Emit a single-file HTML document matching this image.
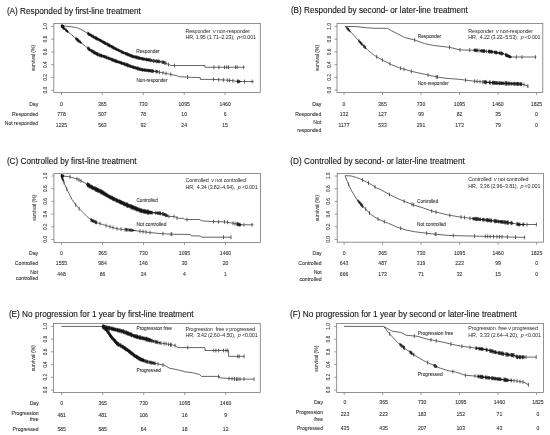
<!DOCTYPE html>
<html><head><meta charset="utf-8"><style>
html,body{margin:0;padding:0;background:#fff;width:550px;height:435px;overflow:hidden}
svg{display:block;filter:blur(0.38px)}
text{font-family:"Liberation Sans", sans-serif;stroke:#333;stroke-width:0.1px}
</style></head><body>
<svg width="550" height="435" viewBox="0 0 550 435">
<rect width="550" height="435" fill="#fff"/>
<rect x="53.8" y="23.5" width="206.5" height="69.0" fill="none" stroke="#777" stroke-width="0.8"/>
<text x="6.90" y="13.60" font-size="8.6" text-anchor="start" fill="#111" textLength="134" lengthAdjust="spacingAndGlyphs" style="stroke:#222;stroke-width:0.12px">(A) Responded by first-line treatment</text>
<line x1="51.20" y1="90.20" x2="53.80" y2="90.20" stroke="#777" stroke-width="0.7"/>
<text transform="translate(47.00,90.20) rotate(-90)" font-size="6.0" text-anchor="middle" fill="#444" textLength="6.6" lengthAdjust="spacingAndGlyphs">0.0</text>
<line x1="51.20" y1="77.44" x2="53.80" y2="77.44" stroke="#777" stroke-width="0.7"/>
<text transform="translate(47.00,77.44) rotate(-90)" font-size="6.0" text-anchor="middle" fill="#444" textLength="6.6" lengthAdjust="spacingAndGlyphs">0.2</text>
<line x1="51.20" y1="64.68" x2="53.80" y2="64.68" stroke="#777" stroke-width="0.7"/>
<text transform="translate(47.00,64.68) rotate(-90)" font-size="6.0" text-anchor="middle" fill="#444" textLength="6.6" lengthAdjust="spacingAndGlyphs">0.4</text>
<line x1="51.20" y1="51.92" x2="53.80" y2="51.92" stroke="#777" stroke-width="0.7"/>
<text transform="translate(47.00,51.92) rotate(-90)" font-size="6.0" text-anchor="middle" fill="#444" textLength="6.6" lengthAdjust="spacingAndGlyphs">0.6</text>
<line x1="51.20" y1="39.16" x2="53.80" y2="39.16" stroke="#777" stroke-width="0.7"/>
<text transform="translate(47.00,39.16) rotate(-90)" font-size="6.0" text-anchor="middle" fill="#444" textLength="6.6" lengthAdjust="spacingAndGlyphs">0.8</text>
<line x1="51.20" y1="26.40" x2="53.80" y2="26.40" stroke="#777" stroke-width="0.7"/>
<text transform="translate(47.00,26.40) rotate(-90)" font-size="6.0" text-anchor="middle" fill="#444" textLength="6.6" lengthAdjust="spacingAndGlyphs">1.0</text>
<text transform="translate(35.00,58.00) rotate(-90)" font-size="5.0" text-anchor="middle" fill="#444">survival (%)</text>
<line x1="61.50" y1="92.50" x2="61.50" y2="95.10" stroke="#777" stroke-width="0.7"/>
<line x1="102.40" y1="92.50" x2="102.40" y2="95.10" stroke="#777" stroke-width="0.7"/>
<line x1="143.30" y1="92.50" x2="143.30" y2="95.10" stroke="#777" stroke-width="0.7"/>
<line x1="184.20" y1="92.50" x2="184.20" y2="95.10" stroke="#777" stroke-width="0.7"/>
<line x1="225.10" y1="92.50" x2="225.10" y2="95.10" stroke="#777" stroke-width="0.7"/>
<text x="38.20" y="106.20" font-size="5.6" text-anchor="end" fill="#333" textLength="9.07" lengthAdjust="spacingAndGlyphs" >Day</text>
<text x="61.50" y="106.30" font-size="5.6" text-anchor="middle" fill="#333" textLength="2.84" lengthAdjust="spacingAndGlyphs" >0</text>
<text x="102.40" y="106.30" font-size="5.6" text-anchor="middle" fill="#333" textLength="8.51" lengthAdjust="spacingAndGlyphs" >365</text>
<text x="143.30" y="106.30" font-size="5.6" text-anchor="middle" fill="#333" textLength="8.51" lengthAdjust="spacingAndGlyphs" >730</text>
<text x="184.20" y="106.30" font-size="5.6" text-anchor="middle" fill="#333" textLength="11.34" lengthAdjust="spacingAndGlyphs" >1095</text>
<text x="225.10" y="106.30" font-size="5.6" text-anchor="middle" fill="#333" textLength="11.34" lengthAdjust="spacingAndGlyphs" >1460</text>
<text x="38.20" y="115.50" font-size="5.6" text-anchor="end" fill="#333" textLength="26.09" lengthAdjust="spacingAndGlyphs" >Responded</text>
<text x="61.50" y="115.50" font-size="5.6" text-anchor="middle" fill="#333" textLength="8.51" lengthAdjust="spacingAndGlyphs" >778</text>
<text x="102.40" y="115.50" font-size="5.6" text-anchor="middle" fill="#333" textLength="8.51" lengthAdjust="spacingAndGlyphs" >507</text>
<text x="143.30" y="115.50" font-size="5.6" text-anchor="middle" fill="#333" textLength="5.67" lengthAdjust="spacingAndGlyphs" >78</text>
<text x="184.20" y="115.50" font-size="5.6" text-anchor="middle" fill="#333" textLength="5.67" lengthAdjust="spacingAndGlyphs" >10</text>
<text x="225.10" y="115.50" font-size="5.6" text-anchor="middle" fill="#333" textLength="2.84" lengthAdjust="spacingAndGlyphs" >6</text>
<text x="38.20" y="125.00" font-size="5.6" text-anchor="end" fill="#333" textLength="33.45" lengthAdjust="spacingAndGlyphs" >Not responded</text>
<text x="61.50" y="126.60" font-size="5.6" text-anchor="middle" fill="#333" textLength="11.34" lengthAdjust="spacingAndGlyphs" >1225</text>
<text x="102.40" y="126.60" font-size="5.6" text-anchor="middle" fill="#333" textLength="8.51" lengthAdjust="spacingAndGlyphs" >563</text>
<text x="143.30" y="126.60" font-size="5.6" text-anchor="middle" fill="#333" textLength="5.67" lengthAdjust="spacingAndGlyphs" >92</text>
<text x="184.20" y="126.60" font-size="5.6" text-anchor="middle" fill="#333" textLength="5.67" lengthAdjust="spacingAndGlyphs" >24</text>
<text x="225.10" y="126.60" font-size="5.6" text-anchor="middle" fill="#333" textLength="5.67" lengthAdjust="spacingAndGlyphs" >15</text>
<path d="M61.70,26.10 L67.20,26.30 L71.80,26.80 L76.40,27.50 L81.00,29.40 L85.60,32.10 L90.20,34.90 L94.80,37.60 L99.40,39.90 L105.00,43.10 L114.20,48.10 L123.40,52.70 L132.60,56.40 L141.80,58.70 L150.00,60.10 L154.60,61.00 L159.20,61.50 L163.80,62.40 L168.40,64.40 L171.10,65.50 L205.00,65.50 L205.00,67.30 L244.50,67.20" fill="none" stroke="#4a4a4a" stroke-width="0.85" stroke-linejoin="round"/>
<path d="M61.70,26.10 L63.50,26.17" fill="none" stroke="#222" stroke-width="1.65" stroke-linejoin="round" stroke-linecap="round"/>
<path d="M61.70,24.50V27.70M62.45,24.37V27.89M63.20,24.91V27.40" stroke="#111" stroke-width="0.8" fill="none"/>
<path d="M88.00,33.56 L90.20,34.90 L94.80,37.60 L99.40,39.90 L105.00,43.10 L114.20,48.10 L123.40,52.70 L132.60,56.40 L141.80,58.70 L150.00,60.10" fill="none" stroke="#222" stroke-width="1.88" stroke-linejoin="round" stroke-linecap="round"/>
<path d="M88.00,31.75V35.37M88.75,32.12V35.92M89.50,33.06V35.89M90.25,33.56V36.30M91.32,33.72V37.39M92.07,34.46V37.53M93.21,34.69V38.65M93.96,35.74V38.48M95.08,35.91V39.57M95.83,36.09V40.14M96.58,36.63V40.35M97.33,37.15V40.59M98.65,38.01V41.04M99.40,38.39V41.41M100.15,38.83V41.83M100.90,39.09V42.43M101.65,39.63V42.74M102.92,39.92V43.91M103.67,40.92V43.76M104.42,40.98V44.56M105.17,41.34V45.05M105.92,42.04V45.16M107.22,42.30V46.31M107.97,43.07V46.36M108.72,43.19V47.05M109.47,43.71V47.35M110.22,44.37V47.50M111.51,45.01V48.26M112.26,45.10V48.99M113.01,45.77V49.14M113.76,45.99V49.73M114.51,46.62V49.89M115.54,47.36V50.18M116.29,47.33V50.96M117.04,48.10V50.95M118.31,48.46V51.85M119.06,49.16V51.90M119.81,49.53V52.29M121.16,49.82V53.33M121.91,50.15V53.76M122.66,50.86V53.80M123.41,51.19V54.21M124.16,51.65V54.36M125.47,52.02V55.04M126.22,52.12V55.54M126.97,52.12V56.15M127.72,52.68V56.19M128.47,53.07V56.41M129.59,53.57V56.81M130.34,53.54V57.44M131.66,54.10V57.94M132.41,54.61V58.04M133.16,54.80V58.28M133.91,55.08V58.38M134.66,55.53V58.30M135.79,55.19V59.21M136.54,55.75V59.03M137.29,55.65V59.49M138.14,56.00V59.57M138.89,56.19V59.75M139.64,56.49V59.83M140.39,56.98V59.72M141.14,57.03V60.05M142.29,56.87V60.69M143.04,57.00V60.82M144.01,57.67V60.49M144.76,57.84V60.57M145.99,57.88V60.95M146.74,57.64V61.45M147.49,58.19V61.15M148.43,58.11V61.55M149.18,58.49V61.43M149.93,58.55V61.63" stroke="#111" stroke-width="0.8" fill="none"/>
<path d="M150.00,60.10 L154.60,61.00 L159.20,61.50 L163.80,62.40 L165.00,62.92" fill="none" stroke="#222" stroke-width="0.88" stroke-linejoin="round" stroke-linecap="round"/>
<path d="M150.00,58.55V61.65M150.75,58.97V61.53M151.50,58.98V61.81M152.75,59.36V61.91M153.50,58.95V62.61M154.25,59.37V62.49M155.40,59.73V62.44M156.15,59.69V62.65M157.48,59.62V63.01M158.23,59.72V63.07M158.98,59.89V63.06M159.73,60.25V62.96M162.68,60.66V63.70M163.43,60.76V63.89M164.18,61.34V63.79M164.93,61.22V64.56" stroke="#111" stroke-width="0.8" fill="none"/>
<line x1="150.50" y1="58.30" x2="150.50" y2="62.10" stroke="#444" stroke-width="0.85"/>
<line x1="153.50" y1="58.88" x2="153.50" y2="62.68" stroke="#444" stroke-width="0.85"/>
<line x1="156.50" y1="59.31" x2="156.50" y2="63.11" stroke="#444" stroke-width="0.85"/>
<line x1="159.00" y1="59.58" x2="159.00" y2="63.38" stroke="#444" stroke-width="0.85"/>
<line x1="162.00" y1="60.15" x2="162.00" y2="63.95" stroke="#444" stroke-width="0.85"/>
<line x1="164.50" y1="60.80" x2="164.50" y2="64.60" stroke="#444" stroke-width="0.85"/>
<line x1="166.00" y1="61.46" x2="166.00" y2="65.26" stroke="#444" stroke-width="0.85"/>
<line x1="168.50" y1="62.54" x2="168.50" y2="66.34" stroke="#444" stroke-width="0.85"/>
<line x1="174.40" y1="63.60" x2="174.40" y2="67.40" stroke="#444" stroke-width="0.85"/>
<line x1="213.90" y1="65.38" x2="213.90" y2="69.18" stroke="#444" stroke-width="0.85"/>
<line x1="218.90" y1="65.36" x2="218.90" y2="69.16" stroke="#444" stroke-width="0.85"/>
<line x1="224.50" y1="65.35" x2="224.50" y2="69.15" stroke="#444" stroke-width="0.85"/>
<line x1="226.70" y1="65.35" x2="226.70" y2="69.15" stroke="#444" stroke-width="0.85"/>
<line x1="228.50" y1="65.34" x2="228.50" y2="69.14" stroke="#444" stroke-width="0.85"/>
<line x1="235.50" y1="65.32" x2="235.50" y2="69.12" stroke="#444" stroke-width="0.85"/>
<line x1="237.20" y1="65.32" x2="237.20" y2="69.12" stroke="#444" stroke-width="0.85"/>
<line x1="243.70" y1="65.30" x2="243.70" y2="69.10" stroke="#444" stroke-width="0.85"/>
<path d="M61.70,26.10 L62.60,27.00 L67.20,31.20 L71.80,34.90 L76.40,39.00 L81.00,42.70 L85.60,46.40 L90.20,50.00 L94.80,52.80 L99.40,55.10 L105.00,56.80 L114.20,60.50 L123.40,63.70 L132.60,67.00 L141.80,69.70 L150.00,70.70 L156.90,71.60 L163.80,73.00 L170.70,74.40 L176.70,75.70 L179.40,76.70 L191.40,77.30 L200.30,77.60 L200.30,79.40 L213.00,79.40 L225.00,80.00 L232.00,80.60 L238.00,81.50 L253.90,81.50" fill="none" stroke="#4a4a4a" stroke-width="0.85" stroke-linejoin="round"/>
<path d="M61.50,26.10 L61.70,26.10 L62.60,27.00 L65.00,29.19" fill="none" stroke="#222" stroke-width="1.80" stroke-linejoin="round" stroke-linecap="round"/>
<path d="M61.50,24.76V27.44M62.25,25.14V28.16M63.00,25.39V29.34M63.75,26.14V29.96" stroke="#111" stroke-width="0.8" fill="none"/>
<path d="M66.00,30.10 L67.20,31.20 L68.00,31.84" fill="none" stroke="#222" stroke-width="1.50" stroke-linejoin="round" stroke-linecap="round"/>
<path d="M66.00,28.36V31.85M66.75,29.48V32.10M67.50,30.23V32.65" stroke="#111" stroke-width="0.8" fill="none"/>
<path d="M76.00,38.64 L76.40,39.00 L81.00,42.70" fill="none" stroke="#222" stroke-width="1.65" stroke-linejoin="round" stroke-linecap="round"/>
<path d="M76.00,36.83V40.46M76.75,38.05V40.51M77.50,38.11V41.66M78.25,38.61V42.36M79.00,39.49V42.69M80.28,40.57V43.68" stroke="#111" stroke-width="0.8" fill="none"/>
<path d="M88.00,48.28 L90.20,50.00 L94.80,52.80 L99.40,55.10 L105.00,56.80 L114.20,60.50 L123.40,63.70 L132.60,67.00 L141.80,69.70 L150.00,70.70 L152.00,70.96" fill="none" stroke="#222" stroke-width="1.95" stroke-linejoin="round" stroke-linecap="round"/>
<path d="M88.00,46.48V50.08M88.75,46.84V50.89M89.50,47.64V51.27M90.82,48.77V51.98M91.57,49.08V52.58M92.32,49.66V52.92M93.07,49.74V53.76M93.93,50.27V54.27M94.68,50.76V54.69M95.43,51.32V54.91M96.49,51.77V55.52M97.24,52.03V56.01M97.99,52.34V56.45M99.28,53.30V56.78M100.03,53.20V57.38M100.78,53.96V57.08M101.53,53.84V57.66M102.28,54.52V57.43M103.59,54.78V57.96M104.34,54.97V58.23M105.09,55.08V58.59M106.11,55.64V58.85M106.86,55.54V59.55M108.19,56.59V59.58M108.94,56.60V60.17M109.69,57.21V60.16M110.44,57.56V60.41M111.72,57.52V61.48M112.47,58.17V61.44M113.22,58.27V61.94M114.26,58.73V62.31M115.01,58.98V62.58M115.76,58.98V63.11M116.51,59.65V62.96M117.26,59.96V63.17M118.17,60.40V63.35M118.92,60.71V63.57M119.67,60.79V64.01M120.52,61.22V64.18M121.27,60.94V64.98M122.02,61.79V64.65M122.77,61.91V65.05M123.83,62.14V65.57M124.58,62.25V66.00M125.86,62.54V66.62M126.61,63.18V66.51M127.36,63.04V67.20M128.11,63.35V67.42M129.08,64.12V67.36M129.83,64.46V67.55M130.58,64.65V67.90M131.33,65.13V67.96M132.64,65.39V68.64M133.39,65.56V68.91M134.14,65.77V69.13M134.89,66.23V69.12M135.64,66.27V69.52M136.72,66.66V69.76M137.47,66.60V70.26M138.22,66.56V70.74M139.42,67.42V70.58M140.17,67.44V71.00M140.92,67.83V71.06M141.81,68.24V71.16M142.56,67.87V71.72M143.31,68.42V71.35M144.33,68.33V71.68M145.08,68.48V71.71M145.83,68.56V71.82M147.10,68.77V71.92M147.85,68.97V71.91M148.60,68.70V72.36M149.50,69.22V72.05M150.25,69.16V72.30M151.00,69.38V72.28M151.88,69.53V72.36" stroke="#111" stroke-width="0.8" fill="none"/>
<path d="M152.00,70.96 L156.90,71.60 L158.00,71.82" fill="none" stroke="#222" stroke-width="0.88" stroke-linejoin="round" stroke-linecap="round"/>
<path d="M152.00,69.42V72.51M152.75,69.25V72.86M153.50,69.85V72.46M156.44,69.98V73.10M157.19,69.99V73.33" stroke="#111" stroke-width="0.8" fill="none"/>
<path d="M237.60,81.44 L238.00,81.50 L239.80,81.50" fill="none" stroke="#222" stroke-width="1.95" stroke-linejoin="round" stroke-linecap="round"/>
<path d="M237.60,79.46V83.42M238.35,79.88V83.12M239.10,80.03V82.97" stroke="#111" stroke-width="0.8" fill="none"/>
<line x1="152.00" y1="69.06" x2="152.00" y2="72.86" stroke="#444" stroke-width="0.85"/>
<line x1="156.00" y1="69.58" x2="156.00" y2="73.38" stroke="#444" stroke-width="0.85"/>
<line x1="159.50" y1="70.23" x2="159.50" y2="74.03" stroke="#444" stroke-width="0.85"/>
<line x1="163.00" y1="70.94" x2="163.00" y2="74.74" stroke="#444" stroke-width="0.85"/>
<line x1="166.00" y1="71.55" x2="166.00" y2="75.35" stroke="#444" stroke-width="0.85"/>
<line x1="170.80" y1="72.52" x2="170.80" y2="76.32" stroke="#444" stroke-width="0.85"/>
<line x1="187.50" y1="75.20" x2="187.50" y2="79.01" stroke="#444" stroke-width="0.85"/>
<line x1="213.50" y1="77.53" x2="213.50" y2="81.33" stroke="#444" stroke-width="0.85"/>
<line x1="218.70" y1="77.78" x2="218.70" y2="81.59" stroke="#444" stroke-width="0.85"/>
<line x1="223.40" y1="78.02" x2="223.40" y2="81.82" stroke="#444" stroke-width="0.85"/>
<line x1="227.70" y1="78.33" x2="227.70" y2="82.13" stroke="#444" stroke-width="0.85"/>
<line x1="229.60" y1="78.49" x2="229.60" y2="82.29" stroke="#444" stroke-width="0.85"/>
<line x1="232.90" y1="78.83" x2="232.90" y2="82.64" stroke="#444" stroke-width="0.85"/>
<line x1="238.70" y1="79.60" x2="238.70" y2="83.40" stroke="#444" stroke-width="0.85"/>
<line x1="244.50" y1="79.60" x2="244.50" y2="83.40" stroke="#444" stroke-width="0.85"/>
<line x1="252.10" y1="79.60" x2="252.10" y2="83.40" stroke="#444" stroke-width="0.85"/>
<text x="136.20" y="52.80" font-size="5.8" text-anchor="start" fill="#333" textLength="23.5" lengthAdjust="spacingAndGlyphs" >Responder</text>
<text x="136.50" y="81.60" font-size="5.8" text-anchor="start" fill="#333" textLength="31" lengthAdjust="spacingAndGlyphs" >Non-responder</text>
<text x="185.50" y="33.20" font-size="5.4" fill="#2a2a2a" style="stroke:none" textLength="64.5" lengthAdjust="spacing">Responder&#160; <tspan font-style="italic">v</tspan> non-responder</text>
<text x="185.50" y="38.80" font-size="5.4" fill="#2a2a2a" style="stroke:none" textLength="70.5" lengthAdjust="spacing">HR, 1.95 (1.71–2.23),&#160; <tspan font-style="italic">p</tspan>&lt;0.001</text>
<rect x="337.0" y="23.5" width="205.79999999999995" height="69.0" fill="none" stroke="#777" stroke-width="0.8"/>
<text x="290.90" y="13.40" font-size="8.6" text-anchor="start" fill="#111" textLength="177" lengthAdjust="spacingAndGlyphs" style="stroke:#222;stroke-width:0.12px">(B) Responded by second- or later-line treatment</text>
<line x1="334.40" y1="90.20" x2="337.00" y2="90.20" stroke="#777" stroke-width="0.7"/>
<text transform="translate(331.00,90.20) rotate(-90)" font-size="6.0" text-anchor="middle" fill="#444" textLength="6.6" lengthAdjust="spacingAndGlyphs">0.0</text>
<line x1="334.40" y1="77.44" x2="337.00" y2="77.44" stroke="#777" stroke-width="0.7"/>
<text transform="translate(331.00,77.44) rotate(-90)" font-size="6.0" text-anchor="middle" fill="#444" textLength="6.6" lengthAdjust="spacingAndGlyphs">0.2</text>
<line x1="334.40" y1="64.68" x2="337.00" y2="64.68" stroke="#777" stroke-width="0.7"/>
<text transform="translate(331.00,64.68) rotate(-90)" font-size="6.0" text-anchor="middle" fill="#444" textLength="6.6" lengthAdjust="spacingAndGlyphs">0.4</text>
<line x1="334.40" y1="51.92" x2="337.00" y2="51.92" stroke="#777" stroke-width="0.7"/>
<text transform="translate(331.00,51.92) rotate(-90)" font-size="6.0" text-anchor="middle" fill="#444" textLength="6.6" lengthAdjust="spacingAndGlyphs">0.6</text>
<line x1="334.40" y1="39.16" x2="337.00" y2="39.16" stroke="#777" stroke-width="0.7"/>
<text transform="translate(331.00,39.16) rotate(-90)" font-size="6.0" text-anchor="middle" fill="#444" textLength="6.6" lengthAdjust="spacingAndGlyphs">0.8</text>
<line x1="334.40" y1="26.40" x2="337.00" y2="26.40" stroke="#777" stroke-width="0.7"/>
<text transform="translate(331.00,26.40) rotate(-90)" font-size="6.0" text-anchor="middle" fill="#444" textLength="6.6" lengthAdjust="spacingAndGlyphs">1.0</text>
<text transform="translate(319.30,58.00) rotate(-90)" font-size="5.0" text-anchor="middle" fill="#444">survival (%)</text>
<line x1="344.00" y1="92.50" x2="344.00" y2="95.10" stroke="#777" stroke-width="0.7"/>
<line x1="382.50" y1="92.50" x2="382.50" y2="95.10" stroke="#777" stroke-width="0.7"/>
<line x1="421.00" y1="92.50" x2="421.00" y2="95.10" stroke="#777" stroke-width="0.7"/>
<line x1="459.50" y1="92.50" x2="459.50" y2="95.10" stroke="#777" stroke-width="0.7"/>
<line x1="498.00" y1="92.50" x2="498.00" y2="95.10" stroke="#777" stroke-width="0.7"/>
<line x1="536.50" y1="92.50" x2="536.50" y2="95.10" stroke="#777" stroke-width="0.7"/>
<text x="321.30" y="105.90" font-size="5.6" text-anchor="end" fill="#333" textLength="9.07" lengthAdjust="spacingAndGlyphs" >Day</text>
<text x="344.00" y="105.70" font-size="5.6" text-anchor="middle" fill="#333" textLength="2.84" lengthAdjust="spacingAndGlyphs" >0</text>
<text x="382.50" y="105.70" font-size="5.6" text-anchor="middle" fill="#333" textLength="8.51" lengthAdjust="spacingAndGlyphs" >365</text>
<text x="421.00" y="105.70" font-size="5.6" text-anchor="middle" fill="#333" textLength="8.51" lengthAdjust="spacingAndGlyphs" >730</text>
<text x="459.50" y="105.70" font-size="5.6" text-anchor="middle" fill="#333" textLength="11.34" lengthAdjust="spacingAndGlyphs" >1095</text>
<text x="498.00" y="105.70" font-size="5.6" text-anchor="middle" fill="#333" textLength="11.34" lengthAdjust="spacingAndGlyphs" >1460</text>
<text x="536.50" y="105.70" font-size="5.6" text-anchor="middle" fill="#333" textLength="11.34" lengthAdjust="spacingAndGlyphs" >1825</text>
<text x="321.30" y="116.10" font-size="5.6" text-anchor="end" fill="#333" textLength="26.09" lengthAdjust="spacingAndGlyphs" >Responded</text>
<text x="344.00" y="116.10" font-size="5.6" text-anchor="middle" fill="#333" textLength="8.51" lengthAdjust="spacingAndGlyphs" >132</text>
<text x="382.50" y="116.10" font-size="5.6" text-anchor="middle" fill="#333" textLength="8.51" lengthAdjust="spacingAndGlyphs" >127</text>
<text x="421.00" y="116.10" font-size="5.6" text-anchor="middle" fill="#333" textLength="5.67" lengthAdjust="spacingAndGlyphs" >99</text>
<text x="459.50" y="116.10" font-size="5.6" text-anchor="middle" fill="#333" textLength="5.67" lengthAdjust="spacingAndGlyphs" >82</text>
<text x="498.00" y="116.10" font-size="5.6" text-anchor="middle" fill="#333" textLength="5.67" lengthAdjust="spacingAndGlyphs" >35</text>
<text x="536.50" y="116.10" font-size="5.6" text-anchor="middle" fill="#333" textLength="2.84" lengthAdjust="spacingAndGlyphs" >0</text>
<text x="321.30" y="124.40" font-size="5.6" text-anchor="end" fill="#333" textLength="7.94" lengthAdjust="spacingAndGlyphs" >Not</text>
<text x="321.30" y="131.80" font-size="5.6" text-anchor="end" fill="#333" textLength="24.10" lengthAdjust="spacingAndGlyphs" >responded</text>
<text x="344.00" y="126.60" font-size="5.6" text-anchor="middle" fill="#333" textLength="10.97" lengthAdjust="spacingAndGlyphs" >1177</text>
<text x="382.50" y="126.60" font-size="5.6" text-anchor="middle" fill="#333" textLength="8.51" lengthAdjust="spacingAndGlyphs" >533</text>
<text x="421.00" y="126.60" font-size="5.6" text-anchor="middle" fill="#333" textLength="8.51" lengthAdjust="spacingAndGlyphs" >291</text>
<text x="459.50" y="126.60" font-size="5.6" text-anchor="middle" fill="#333" textLength="8.51" lengthAdjust="spacingAndGlyphs" >173</text>
<text x="498.00" y="126.60" font-size="5.6" text-anchor="middle" fill="#333" textLength="5.67" lengthAdjust="spacingAndGlyphs" >79</text>
<text x="536.50" y="126.60" font-size="5.6" text-anchor="middle" fill="#333" textLength="2.84" lengthAdjust="spacingAndGlyphs" >0</text>
<path d="M345.00,26.50 L355.50,26.50 L366.90,27.80 L375.00,28.30 L387.40,28.30 L391.50,30.80 L396.50,33.20 L404.80,37.60 L414.70,40.00 L424.60,43.60 L433.60,45.50 L449.60,47.30 L459.80,49.90 L474.40,50.20 L492.00,51.80 L503.00,53.70 L510.60,57.00 L536.40,57.00" fill="none" stroke="#4a4a4a" stroke-width="0.85" stroke-linejoin="round"/>
<path d="M474.40,50.20 L477.20,50.45" fill="none" stroke="#222" stroke-width="1.95" stroke-linejoin="round" stroke-linecap="round"/>
<path d="M474.40,48.71V51.69M475.15,48.72V51.81M475.90,48.55V52.12M477.14,48.49V52.41" stroke="#111" stroke-width="0.8" fill="none"/>
<path d="M481.00,50.80 L484.80,51.15" fill="none" stroke="#222" stroke-width="1.95" stroke-linejoin="round" stroke-linecap="round"/>
<path d="M481.00,49.28V52.32M481.75,49.17V52.57M482.50,49.43V52.45M483.68,49.10V52.99M484.43,49.23V52.99" stroke="#111" stroke-width="0.8" fill="none"/>
<path d="M488.70,51.50 L492.00,51.80 L492.50,51.89" fill="none" stroke="#222" stroke-width="1.95" stroke-linejoin="round" stroke-linecap="round"/>
<path d="M488.70,49.72V53.28M489.45,49.57V53.56M490.20,49.92V53.35M491.22,49.99V53.47M491.97,49.84V53.75" stroke="#111" stroke-width="0.8" fill="none"/>
<path d="M494.40,52.21 L497.30,52.72" fill="none" stroke="#222" stroke-width="1.95" stroke-linejoin="round" stroke-linecap="round"/>
<path d="M494.40,50.77V53.66M495.15,50.70V53.99M496.06,50.41V54.59M496.81,51.04V54.23" stroke="#111" stroke-width="0.8" fill="none"/>
<path d="M499.20,53.04 L503.00,53.70" fill="none" stroke="#222" stroke-width="1.95" stroke-linejoin="round" stroke-linecap="round"/>
<path d="M499.20,51.48V54.61M499.95,51.77V54.58M501.05,51.31V55.41M501.80,51.65V55.34M502.55,52.06V55.18" stroke="#111" stroke-width="0.8" fill="none"/>
<path d="M505.80,54.92 L510.60,57.00" fill="none" stroke="#222" stroke-width="2.10" stroke-linejoin="round" stroke-linecap="round"/>
<path d="M505.80,52.92V56.91M506.55,53.51V56.98M507.30,53.64V57.50M508.48,54.54V57.61M509.23,54.85V57.95M509.98,54.87V58.59" stroke="#111" stroke-width="0.8" fill="none"/>
<line x1="414.70" y1="38.10" x2="414.70" y2="41.90" stroke="#444" stroke-width="0.85"/>
<line x1="449.50" y1="45.39" x2="449.50" y2="49.19" stroke="#444" stroke-width="0.85"/>
<line x1="460.00" y1="48.00" x2="460.00" y2="51.80" stroke="#444" stroke-width="0.85"/>
<line x1="469.60" y1="48.20" x2="469.60" y2="52.00" stroke="#444" stroke-width="0.85"/>
<line x1="479.00" y1="48.72" x2="479.00" y2="52.52" stroke="#444" stroke-width="0.85"/>
<line x1="482.00" y1="48.99" x2="482.00" y2="52.79" stroke="#444" stroke-width="0.85"/>
<line x1="486.50" y1="49.40" x2="486.50" y2="53.20" stroke="#444" stroke-width="0.85"/>
<line x1="516.30" y1="55.10" x2="516.30" y2="58.90" stroke="#444" stroke-width="0.85"/>
<line x1="522.00" y1="55.10" x2="522.00" y2="58.90" stroke="#444" stroke-width="0.85"/>
<line x1="535.40" y1="55.10" x2="535.40" y2="58.90" stroke="#444" stroke-width="0.85"/>
<path d="M345.00,26.50 L349.10,30.10 L361.80,44.10 L368.20,50.50 L374.50,55.50 L383.30,60.50 L391.50,64.70 L399.80,68.00 L411.40,71.30 L424.60,74.30 L436.20,76.80 L445.00,78.20 L459.10,79.30 L474.40,81.20 L497.30,83.10 L520.20,84.00 L524.00,84.60 L528.60,86.40" fill="none" stroke="#4a4a4a" stroke-width="0.85" stroke-linejoin="round"/>
<path d="M347.00,28.26 L349.10,30.10 L350.00,31.09" fill="none" stroke="#222" stroke-width="0.80" stroke-linejoin="round" stroke-linecap="round"/>
<path d="M347.00,26.94V29.57M347.75,27.33V30.50M348.50,27.88V31.27M349.70,29.25V32.28" stroke="#111" stroke-width="0.8" fill="none"/>
<path d="M359.00,41.01 L361.80,44.10 L366.00,48.30" fill="none" stroke="#222" stroke-width="0.96" stroke-linejoin="round" stroke-linecap="round"/>
<path d="M359.00,39.31V42.71M359.75,40.42V43.26M360.50,41.19V44.14M361.25,42.04V44.95M362.00,42.60V46.00M363.83,44.33V47.93M364.58,45.33V48.42M365.33,45.97V49.29" stroke="#111" stroke-width="0.8" fill="none"/>
<path d="M484.00,82.00 L497.30,83.10 L520.20,84.00 L522.00,84.28" fill="none" stroke="#222" stroke-width="1.12" stroke-linejoin="round" stroke-linecap="round"/>
<path d="M484.00,80.13V83.86M484.75,80.50V83.62M485.65,79.96V84.31M486.40,80.60V83.79M489.41,80.63V84.26M490.16,80.36V84.65M492.49,80.92V84.48M493.24,80.63V84.90M493.99,81.02V84.63M494.74,80.95V84.82M495.69,81.05V84.89M496.44,81.24V84.81M497.19,81.51V84.67M497.94,81.42V84.83M499.17,81.00V85.35M499.92,81.33V85.07M500.78,81.57V84.91M501.53,81.58V84.95M502.28,81.67V84.92M503.03,81.72V84.93M503.78,81.71V85.00M505.01,81.35V85.46M505.76,81.37V85.50M506.51,81.28V85.64M507.26,81.61V85.37M508.54,81.64V85.44M509.29,81.80V85.34M510.04,81.90V85.30M511.29,81.75V85.55M512.04,82.17V85.19M513.23,82.17V85.28M513.98,81.99V85.52M514.73,81.72V85.85M515.92,82.11V85.56M516.67,82.27V85.45M517.42,81.89V85.89M518.17,82.18V85.67M518.92,82.07V85.83M520.13,82.15V85.84M520.88,82.15V86.06M521.63,82.46V85.99" stroke="#111" stroke-width="0.8" fill="none"/>
<line x1="376.70" y1="54.85" x2="376.70" y2="58.65" stroke="#444" stroke-width="0.85"/>
<line x1="382.40" y1="58.09" x2="382.40" y2="61.89" stroke="#444" stroke-width="0.85"/>
<line x1="389.90" y1="61.98" x2="389.90" y2="65.78" stroke="#444" stroke-width="0.85"/>
<line x1="400.60" y1="66.33" x2="400.60" y2="70.13" stroke="#444" stroke-width="0.85"/>
<line x1="404.00" y1="67.29" x2="404.00" y2="71.09" stroke="#444" stroke-width="0.85"/>
<line x1="411.40" y1="69.40" x2="411.40" y2="73.20" stroke="#444" stroke-width="0.85"/>
<line x1="428.00" y1="73.13" x2="428.00" y2="76.93" stroke="#444" stroke-width="0.85"/>
<line x1="436.20" y1="74.90" x2="436.20" y2="78.70" stroke="#444" stroke-width="0.85"/>
<line x1="437.50" y1="75.11" x2="437.50" y2="78.91" stroke="#444" stroke-width="0.85"/>
<line x1="465.60" y1="78.21" x2="465.60" y2="82.01" stroke="#444" stroke-width="0.85"/>
<line x1="474.60" y1="79.32" x2="474.60" y2="83.12" stroke="#444" stroke-width="0.85"/>
<line x1="477.00" y1="79.52" x2="477.00" y2="83.32" stroke="#444" stroke-width="0.85"/>
<line x1="480.00" y1="79.76" x2="480.00" y2="83.56" stroke="#444" stroke-width="0.85"/>
<line x1="482.80" y1="80.00" x2="482.80" y2="83.80" stroke="#444" stroke-width="0.85"/>
<line x1="524.00" y1="82.70" x2="524.00" y2="86.50" stroke="#444" stroke-width="0.85"/>
<line x1="527.80" y1="84.19" x2="527.80" y2="87.99" stroke="#444" stroke-width="0.85"/>
<text x="417.70" y="38.00" font-size="5.8" text-anchor="start" fill="#333" textLength="23.5" lengthAdjust="spacingAndGlyphs" >Responder</text>
<text x="417.70" y="84.50" font-size="5.8" text-anchor="start" fill="#333" textLength="31" lengthAdjust="spacingAndGlyphs" >Non-responder</text>
<text x="468.30" y="32.50" font-size="5.4" fill="#2a2a2a" style="stroke:none" textLength="64.7" lengthAdjust="spacing">Responder&#160; <tspan font-style="italic">v</tspan> non-responder</text>
<text x="468.30" y="38.80" font-size="5.4" fill="#2a2a2a" style="stroke:none" textLength="72.3" lengthAdjust="spacing">HR,&#160; 4.22 (3.22–5.53),&#160; <tspan font-style="italic">p</tspan> &lt;0.001</text>
<rect x="53.9" y="173.5" width="206.6" height="68.9" fill="none" stroke="#777" stroke-width="0.8"/>
<text x="6.90" y="163.80" font-size="8.6" text-anchor="start" fill="#111" textLength="129.7" lengthAdjust="spacingAndGlyphs" style="stroke:#222;stroke-width:0.12px">(C) Controlled by first-line treatment</text>
<line x1="51.30" y1="239.50" x2="53.90" y2="239.50" stroke="#777" stroke-width="0.7"/>
<text transform="translate(47.00,239.50) rotate(-90)" font-size="6.0" text-anchor="middle" fill="#444" textLength="6.6" lengthAdjust="spacingAndGlyphs">0.0</text>
<line x1="51.30" y1="226.80" x2="53.90" y2="226.80" stroke="#777" stroke-width="0.7"/>
<text transform="translate(47.00,226.80) rotate(-90)" font-size="6.0" text-anchor="middle" fill="#444" textLength="6.6" lengthAdjust="spacingAndGlyphs">0.2</text>
<line x1="51.30" y1="214.10" x2="53.90" y2="214.10" stroke="#777" stroke-width="0.7"/>
<text transform="translate(47.00,214.10) rotate(-90)" font-size="6.0" text-anchor="middle" fill="#444" textLength="6.6" lengthAdjust="spacingAndGlyphs">0.4</text>
<line x1="51.30" y1="201.40" x2="53.90" y2="201.40" stroke="#777" stroke-width="0.7"/>
<text transform="translate(47.00,201.40) rotate(-90)" font-size="6.0" text-anchor="middle" fill="#444" textLength="6.6" lengthAdjust="spacingAndGlyphs">0.6</text>
<line x1="51.30" y1="188.70" x2="53.90" y2="188.70" stroke="#777" stroke-width="0.7"/>
<text transform="translate(47.00,188.70) rotate(-90)" font-size="6.0" text-anchor="middle" fill="#444" textLength="6.6" lengthAdjust="spacingAndGlyphs">0.8</text>
<line x1="51.30" y1="176.00" x2="53.90" y2="176.00" stroke="#777" stroke-width="0.7"/>
<text transform="translate(47.00,176.00) rotate(-90)" font-size="6.0" text-anchor="middle" fill="#444" textLength="6.6" lengthAdjust="spacingAndGlyphs">1.0</text>
<text transform="translate(35.80,207.80) rotate(-90)" font-size="5.0" text-anchor="middle" fill="#444">survival (%)</text>
<line x1="61.50" y1="242.40" x2="61.50" y2="245.00" stroke="#777" stroke-width="0.7"/>
<line x1="102.50" y1="242.40" x2="102.50" y2="245.00" stroke="#777" stroke-width="0.7"/>
<line x1="143.50" y1="242.40" x2="143.50" y2="245.00" stroke="#777" stroke-width="0.7"/>
<line x1="184.50" y1="242.40" x2="184.50" y2="245.00" stroke="#777" stroke-width="0.7"/>
<line x1="225.50" y1="242.40" x2="225.50" y2="245.00" stroke="#777" stroke-width="0.7"/>
<text x="38.10" y="255.20" font-size="5.6" text-anchor="end" fill="#333" textLength="9.07" lengthAdjust="spacingAndGlyphs" >Day</text>
<text x="61.50" y="254.90" font-size="5.6" text-anchor="middle" fill="#333" textLength="2.84" lengthAdjust="spacingAndGlyphs" >0</text>
<text x="102.50" y="254.90" font-size="5.6" text-anchor="middle" fill="#333" textLength="8.51" lengthAdjust="spacingAndGlyphs" >365</text>
<text x="143.50" y="254.90" font-size="5.6" text-anchor="middle" fill="#333" textLength="8.51" lengthAdjust="spacingAndGlyphs" >730</text>
<text x="184.50" y="254.90" font-size="5.6" text-anchor="middle" fill="#333" textLength="11.34" lengthAdjust="spacingAndGlyphs" >1095</text>
<text x="225.50" y="254.90" font-size="5.6" text-anchor="middle" fill="#333" textLength="11.34" lengthAdjust="spacingAndGlyphs" >1460</text>
<text x="38.10" y="264.70" font-size="5.6" text-anchor="end" fill="#333" textLength="23.24" lengthAdjust="spacingAndGlyphs" >Controlled</text>
<text x="61.50" y="264.70" font-size="5.6" text-anchor="middle" fill="#333" textLength="11.34" lengthAdjust="spacingAndGlyphs" >1555</text>
<text x="102.50" y="264.70" font-size="5.6" text-anchor="middle" fill="#333" textLength="8.51" lengthAdjust="spacingAndGlyphs" >984</text>
<text x="143.50" y="264.70" font-size="5.6" text-anchor="middle" fill="#333" textLength="8.51" lengthAdjust="spacingAndGlyphs" >146</text>
<text x="184.50" y="264.70" font-size="5.6" text-anchor="middle" fill="#333" textLength="5.67" lengthAdjust="spacingAndGlyphs" >30</text>
<text x="225.50" y="264.70" font-size="5.6" text-anchor="middle" fill="#333" textLength="5.67" lengthAdjust="spacingAndGlyphs" >20</text>
<text x="38.10" y="273.60" font-size="5.6" text-anchor="end" fill="#333" textLength="7.94" lengthAdjust="spacingAndGlyphs" >Not</text>
<text x="38.10" y="280.30" font-size="5.6" text-anchor="end" fill="#333" textLength="22.11" lengthAdjust="spacingAndGlyphs" >controlled</text>
<text x="61.50" y="275.80" font-size="5.6" text-anchor="middle" fill="#333" textLength="8.51" lengthAdjust="spacingAndGlyphs" >448</text>
<text x="102.50" y="275.80" font-size="5.6" text-anchor="middle" fill="#333" textLength="5.67" lengthAdjust="spacingAndGlyphs" >86</text>
<text x="143.50" y="275.80" font-size="5.6" text-anchor="middle" fill="#333" textLength="5.67" lengthAdjust="spacingAndGlyphs" >24</text>
<text x="184.50" y="275.80" font-size="5.6" text-anchor="middle" fill="#333" textLength="2.84" lengthAdjust="spacingAndGlyphs" >4</text>
<text x="225.50" y="275.80" font-size="5.6" text-anchor="middle" fill="#333" textLength="2.84" lengthAdjust="spacingAndGlyphs" >1</text>
<path d="M61.50,175.90 L68.80,176.60 L77.10,179.00 L84.00,182.40 L89.50,185.90 L93.00,187.90 L101.10,191.70 L109.10,196.60 L117.20,200.60 L125.20,204.30 L133.30,207.60 L141.30,210.80 L149.40,212.40 L160.00,213.30 L163.70,214.20 L169.20,216.50 L174.70,216.50 L177.50,218.20 L183.90,218.40 L184.80,219.50 L199.50,219.50 L201.40,220.70 L205.00,221.10 L213.50,221.60 L224.90,221.90 L234.50,223.50 L240.20,224.80 L253.50,224.80" fill="none" stroke="#4a4a4a" stroke-width="0.85" stroke-linejoin="round"/>
<path d="M61.50,175.90 L63.50,176.09" fill="none" stroke="#222" stroke-width="1.80" stroke-linejoin="round" stroke-linecap="round"/>
<path d="M61.50,174.16V177.64M62.25,174.17V177.78M63.00,174.23V177.86" stroke="#111" stroke-width="0.8" fill="none"/>
<path d="M87.50,184.63 L89.50,185.90 L93.00,187.90 L101.10,191.70 L109.10,196.60 L117.20,200.60 L125.20,204.30 L133.30,207.60 L141.30,210.80 L149.40,212.40 L150.00,212.45" fill="none" stroke="#222" stroke-width="2.70" stroke-linejoin="round" stroke-linecap="round"/>
<path d="M87.50,182.31V186.95M88.25,182.84V187.37M89.00,183.03V188.14M89.75,183.64V188.44M90.95,184.40V189.06M91.70,184.89V189.43M92.45,185.43V189.74M93.20,186.09V189.90M94.26,186.36V190.63M95.01,186.51V191.18M95.76,186.61V191.78M96.51,187.16V191.94M97.40,187.62V192.31M98.15,187.96V192.67M98.90,188.33V193.01M100.06,188.77V193.66M100.81,189.07V194.06M101.56,189.55V194.42M102.31,189.97V194.91M103.34,190.61V195.53M104.09,191.34V195.72M104.84,191.61V196.37M105.92,192.41V196.89M106.67,192.88V197.34M107.42,193.64V197.50M108.64,194.37V198.27M109.39,194.80V198.69M110.14,194.90V199.32M110.89,195.47V199.50M111.82,195.76V200.13M112.57,195.93V200.70M113.53,196.72V200.85M114.28,197.02V201.29M115.03,197.58V201.47M116.33,197.94V202.40M117.08,198.25V202.83M117.83,198.96V202.83M119.05,199.37V203.54M119.80,199.48V204.13M120.55,200.09V204.21M121.30,200.20V204.79M122.05,200.82V204.86M123.33,201.03V205.84M124.08,201.70V205.86M124.83,201.80V206.46M126.01,202.45V206.81M126.76,202.39V207.49M127.51,202.69V207.80M128.26,203.47V207.62M129.01,203.76V207.94M130.23,204.14V208.56M130.98,204.12V209.19M131.73,204.55V209.37M132.48,204.94V209.59M133.23,205.49V209.65M134.15,205.41V210.47M134.90,206.03V210.45M135.65,206.42V210.66M136.56,206.50V211.31M137.31,207.09V211.32M138.06,207.53V211.48M139.15,207.37V212.51M139.90,208.31V212.17M140.76,208.21V212.96M141.51,208.60V213.09M142.26,208.72V213.26M143.56,209.11V213.39M144.31,208.91V213.88M145.06,209.56V213.52M145.81,209.31V214.08M146.86,209.68V214.11M147.61,209.62V214.47M148.36,209.61V214.78M149.11,210.28V214.41" stroke="#111" stroke-width="0.8" fill="none"/>
<path d="M150.00,212.45 L160.00,213.30 L163.70,214.20 L168.00,216.00" fill="none" stroke="#222" stroke-width="1.04" stroke-linejoin="round" stroke-linecap="round"/>
<path d="M150.00,210.90V214.00M150.75,210.61V214.42M151.50,210.95V214.21M152.25,210.83V214.46M155.49,211.51V214.33M156.24,211.58V214.38M157.54,211.49V214.69M158.29,211.62V214.69M159.04,211.71V214.73M159.79,211.30V215.26M160.54,211.58V215.28M162.33,212.37V215.37M163.08,212.18V215.91M163.83,212.82V215.70M164.58,212.90V216.23M165.66,212.99V217.06M166.41,213.91V216.76M167.16,214.21V217.09" stroke="#111" stroke-width="0.8" fill="none"/>
<path d="M237.50,224.18 L240.20,224.80 L240.50,224.80" fill="none" stroke="#222" stroke-width="2.10" stroke-linejoin="round" stroke-linecap="round"/>
<path d="M237.50,222.14V226.23M238.25,222.55V226.16M239.00,222.89V226.16M239.92,222.75V226.72" stroke="#111" stroke-width="0.8" fill="none"/>
<line x1="70.00" y1="175.05" x2="70.00" y2="178.85" stroke="#444" stroke-width="0.85"/>
<line x1="77.00" y1="177.07" x2="77.00" y2="180.87" stroke="#444" stroke-width="0.85"/>
<line x1="79.00" y1="178.04" x2="79.00" y2="181.84" stroke="#444" stroke-width="0.85"/>
<line x1="81.00" y1="179.02" x2="81.00" y2="182.82" stroke="#444" stroke-width="0.85"/>
<line x1="162.90" y1="212.11" x2="162.90" y2="215.91" stroke="#444" stroke-width="0.85"/>
<line x1="166.00" y1="213.26" x2="166.00" y2="217.06" stroke="#444" stroke-width="0.85"/>
<line x1="169.00" y1="214.52" x2="169.00" y2="218.32" stroke="#444" stroke-width="0.85"/>
<line x1="174.00" y1="214.60" x2="174.00" y2="218.40" stroke="#444" stroke-width="0.85"/>
<line x1="177.00" y1="216.00" x2="177.00" y2="219.80" stroke="#444" stroke-width="0.85"/>
<line x1="187.00" y1="217.60" x2="187.00" y2="221.40" stroke="#444" stroke-width="0.85"/>
<line x1="213.50" y1="219.70" x2="213.50" y2="223.50" stroke="#444" stroke-width="0.85"/>
<line x1="218.50" y1="219.83" x2="218.50" y2="223.63" stroke="#444" stroke-width="0.85"/>
<line x1="224.50" y1="219.99" x2="224.50" y2="223.79" stroke="#444" stroke-width="0.85"/>
<line x1="227.50" y1="220.43" x2="227.50" y2="224.23" stroke="#444" stroke-width="0.85"/>
<line x1="233.00" y1="221.35" x2="233.00" y2="225.15" stroke="#444" stroke-width="0.85"/>
<line x1="235.00" y1="221.71" x2="235.00" y2="225.51" stroke="#444" stroke-width="0.85"/>
<line x1="237.00" y1="222.17" x2="237.00" y2="225.97" stroke="#444" stroke-width="0.85"/>
<line x1="244.00" y1="222.90" x2="244.00" y2="226.70" stroke="#444" stroke-width="0.85"/>
<line x1="252.00" y1="222.90" x2="252.00" y2="226.70" stroke="#444" stroke-width="0.85"/>
<path d="M61.50,175.90 L62.60,179.00 L64.40,183.50 L66.50,188.50 L69.00,193.50 L72.00,199.50 L75.50,204.50 L79.00,208.50 L83.00,212.50 L87.00,216.50 L91.00,220.00 L96.40,222.50 L105.50,225.40 L117.20,228.80 L133.30,230.40 L149.40,232.50 L160.00,233.50 L171.00,234.20 L190.30,234.50 L191.20,235.80 L200.40,236.00 L201.40,237.20 L231.00,237.20" fill="none" stroke="#4a4a4a" stroke-width="0.85" stroke-linejoin="round"/>
<path d="M61.50,175.90 L62.60,179.00 L63.00,180.00" fill="none" stroke="#222" stroke-width="1.65" stroke-linejoin="round" stroke-linecap="round"/>
<path d="M61.50,174.47V177.33M62.25,176.63V179.40M63.00,178.62V181.38" stroke="#111" stroke-width="0.8" fill="none"/>
<path d="M91.00,220.00 L96.40,222.50 L97.00,222.69" fill="none" stroke="#222" stroke-width="0.96" stroke-linejoin="round" stroke-linecap="round"/>
<path d="M91.00,218.05V221.95M91.75,218.63V222.06M92.50,219.15V222.24M93.25,219.32V222.77M94.00,219.70V223.08M94.88,220.11V223.48M95.63,220.47V223.82M96.38,220.69V224.29" stroke="#111" stroke-width="0.8" fill="none"/>
<path d="M126.00,229.67 L133.30,230.40 L135.00,230.62" fill="none" stroke="#222" stroke-width="0.88" stroke-linejoin="round" stroke-linecap="round"/>
<path d="M126.00,227.98V231.37M126.75,228.03V231.47M129.63,228.71V231.36M130.38,228.84V231.38M131.13,228.94V231.43M132.19,229.05V231.53M132.94,229.10V231.63" stroke="#111" stroke-width="0.8" fill="none"/>
<line x1="64.00" y1="180.60" x2="64.00" y2="184.40" stroke="#444" stroke-width="0.85"/>
<line x1="66.70" y1="187.00" x2="66.70" y2="190.80" stroke="#444" stroke-width="0.85"/>
<line x1="75.70" y1="202.83" x2="75.70" y2="206.63" stroke="#444" stroke-width="0.85"/>
<line x1="79.20" y1="206.80" x2="79.20" y2="210.60" stroke="#444" stroke-width="0.85"/>
<line x1="96.00" y1="220.41" x2="96.00" y2="224.21" stroke="#444" stroke-width="0.85"/>
<line x1="100.00" y1="221.75" x2="100.00" y2="225.55" stroke="#444" stroke-width="0.85"/>
<line x1="106.00" y1="223.65" x2="106.00" y2="227.45" stroke="#444" stroke-width="0.85"/>
<line x1="110.00" y1="224.81" x2="110.00" y2="228.61" stroke="#444" stroke-width="0.85"/>
<line x1="113.00" y1="225.68" x2="113.00" y2="229.48" stroke="#444" stroke-width="0.85"/>
<line x1="117.00" y1="226.84" x2="117.00" y2="230.64" stroke="#444" stroke-width="0.85"/>
<line x1="121.00" y1="227.28" x2="121.00" y2="231.08" stroke="#444" stroke-width="0.85"/>
<line x1="125.00" y1="227.68" x2="125.00" y2="231.48" stroke="#444" stroke-width="0.85"/>
<line x1="128.00" y1="227.97" x2="128.00" y2="231.77" stroke="#444" stroke-width="0.85"/>
<line x1="131.00" y1="228.27" x2="131.00" y2="232.07" stroke="#444" stroke-width="0.85"/>
<line x1="140.00" y1="229.37" x2="140.00" y2="233.17" stroke="#444" stroke-width="0.85"/>
<line x1="143.00" y1="229.77" x2="143.00" y2="233.57" stroke="#444" stroke-width="0.85"/>
<line x1="146.00" y1="230.16" x2="146.00" y2="233.96" stroke="#444" stroke-width="0.85"/>
<line x1="150.00" y1="230.66" x2="150.00" y2="234.46" stroke="#444" stroke-width="0.85"/>
<line x1="163.00" y1="231.79" x2="163.00" y2="235.59" stroke="#444" stroke-width="0.85"/>
<line x1="171.00" y1="232.30" x2="171.00" y2="236.10" stroke="#444" stroke-width="0.85"/>
<line x1="171.80" y1="232.31" x2="171.80" y2="236.11" stroke="#444" stroke-width="0.85"/>
<line x1="223.50" y1="235.30" x2="223.50" y2="239.10" stroke="#444" stroke-width="0.85"/>
<line x1="231.00" y1="235.30" x2="231.00" y2="239.10" stroke="#444" stroke-width="0.85"/>
<text x="136.50" y="201.90" font-size="5.8" text-anchor="start" fill="#333" textLength="21.3" lengthAdjust="spacingAndGlyphs" >Controlled</text>
<text x="136.50" y="225.50" font-size="5.8" text-anchor="start" fill="#333" textLength="30" lengthAdjust="spacingAndGlyphs" >Not controlled</text>
<text x="185.40" y="181.80" font-size="5.4" fill="#2a2a2a" style="stroke:none" textLength="60.5" lengthAdjust="spacing">Controlled&#160; <tspan font-style="italic">v</tspan> not controlled</text>
<text x="185.40" y="188.50" font-size="5.4" fill="#2a2a2a" style="stroke:none" textLength="72.3" lengthAdjust="spacing">HR,&#160; 4.34 (3.82–4.94),&#160; <tspan font-style="italic">p</tspan> &lt;0.001</text>
<rect x="337.2" y="173.5" width="206.40000000000003" height="68.69999999999999" fill="none" stroke="#777" stroke-width="0.8"/>
<text x="290.30" y="164.00" font-size="8.6" text-anchor="start" fill="#111" textLength="174.5" lengthAdjust="spacingAndGlyphs" style="stroke:#222;stroke-width:0.12px">(D) Controlled by second- or later-line treatment</text>
<line x1="334.60" y1="239.50" x2="337.20" y2="239.50" stroke="#777" stroke-width="0.7"/>
<text transform="translate(330.00,239.50) rotate(-90)" font-size="6.0" text-anchor="middle" fill="#444" textLength="6.6" lengthAdjust="spacingAndGlyphs">0.0</text>
<line x1="334.60" y1="226.80" x2="337.20" y2="226.80" stroke="#777" stroke-width="0.7"/>
<text transform="translate(330.00,226.80) rotate(-90)" font-size="6.0" text-anchor="middle" fill="#444" textLength="6.6" lengthAdjust="spacingAndGlyphs">0.2</text>
<line x1="334.60" y1="214.10" x2="337.20" y2="214.10" stroke="#777" stroke-width="0.7"/>
<text transform="translate(330.00,214.10) rotate(-90)" font-size="6.0" text-anchor="middle" fill="#444" textLength="6.6" lengthAdjust="spacingAndGlyphs">0.4</text>
<line x1="334.60" y1="201.40" x2="337.20" y2="201.40" stroke="#777" stroke-width="0.7"/>
<text transform="translate(330.00,201.40) rotate(-90)" font-size="6.0" text-anchor="middle" fill="#444" textLength="6.6" lengthAdjust="spacingAndGlyphs">0.6</text>
<line x1="334.60" y1="188.70" x2="337.20" y2="188.70" stroke="#777" stroke-width="0.7"/>
<text transform="translate(330.00,188.70) rotate(-90)" font-size="6.0" text-anchor="middle" fill="#444" textLength="6.6" lengthAdjust="spacingAndGlyphs">0.8</text>
<line x1="334.60" y1="176.00" x2="337.20" y2="176.00" stroke="#777" stroke-width="0.7"/>
<text transform="translate(330.00,176.00) rotate(-90)" font-size="6.0" text-anchor="middle" fill="#444" textLength="6.6" lengthAdjust="spacingAndGlyphs">1.0</text>
<text transform="translate(319.00,208.20) rotate(-90)" font-size="5.0" text-anchor="middle" fill="#444">survival (%)</text>
<line x1="344.10" y1="242.20" x2="344.10" y2="244.80" stroke="#777" stroke-width="0.7"/>
<line x1="382.60" y1="242.20" x2="382.60" y2="244.80" stroke="#777" stroke-width="0.7"/>
<line x1="421.10" y1="242.20" x2="421.10" y2="244.80" stroke="#777" stroke-width="0.7"/>
<line x1="459.60" y1="242.20" x2="459.60" y2="244.80" stroke="#777" stroke-width="0.7"/>
<line x1="498.10" y1="242.20" x2="498.10" y2="244.80" stroke="#777" stroke-width="0.7"/>
<line x1="536.60" y1="242.20" x2="536.60" y2="244.80" stroke="#777" stroke-width="0.7"/>
<text x="321.60" y="254.80" font-size="5.6" text-anchor="end" fill="#333" textLength="9.07" lengthAdjust="spacingAndGlyphs" >Day</text>
<text x="344.10" y="254.80" font-size="5.6" text-anchor="middle" fill="#333" textLength="2.84" lengthAdjust="spacingAndGlyphs" >0</text>
<text x="382.60" y="254.80" font-size="5.6" text-anchor="middle" fill="#333" textLength="8.51" lengthAdjust="spacingAndGlyphs" >365</text>
<text x="421.10" y="254.80" font-size="5.6" text-anchor="middle" fill="#333" textLength="8.51" lengthAdjust="spacingAndGlyphs" >730</text>
<text x="459.60" y="254.80" font-size="5.6" text-anchor="middle" fill="#333" textLength="11.34" lengthAdjust="spacingAndGlyphs" >1095</text>
<text x="498.10" y="254.80" font-size="5.6" text-anchor="middle" fill="#333" textLength="11.34" lengthAdjust="spacingAndGlyphs" >1460</text>
<text x="536.60" y="254.80" font-size="5.6" text-anchor="middle" fill="#333" textLength="11.34" lengthAdjust="spacingAndGlyphs" >1825</text>
<text x="321.60" y="265.10" font-size="5.6" text-anchor="end" fill="#333" textLength="23.24" lengthAdjust="spacingAndGlyphs" >Controlled</text>
<text x="344.10" y="265.10" font-size="5.6" text-anchor="middle" fill="#333" textLength="8.51" lengthAdjust="spacingAndGlyphs" >643</text>
<text x="382.60" y="265.10" font-size="5.6" text-anchor="middle" fill="#333" textLength="8.51" lengthAdjust="spacingAndGlyphs" >487</text>
<text x="421.10" y="265.10" font-size="5.6" text-anchor="middle" fill="#333" textLength="8.51" lengthAdjust="spacingAndGlyphs" >319</text>
<text x="459.60" y="265.10" font-size="5.6" text-anchor="middle" fill="#333" textLength="8.51" lengthAdjust="spacingAndGlyphs" >223</text>
<text x="498.10" y="265.10" font-size="5.6" text-anchor="middle" fill="#333" textLength="5.67" lengthAdjust="spacingAndGlyphs" >99</text>
<text x="536.60" y="265.10" font-size="5.6" text-anchor="middle" fill="#333" textLength="2.84" lengthAdjust="spacingAndGlyphs" >0</text>
<text x="321.60" y="273.60" font-size="5.6" text-anchor="end" fill="#333" textLength="7.94" lengthAdjust="spacingAndGlyphs" >Not</text>
<text x="321.60" y="280.70" font-size="5.6" text-anchor="end" fill="#333" textLength="22.11" lengthAdjust="spacingAndGlyphs" >controlled</text>
<text x="344.10" y="275.70" font-size="5.6" text-anchor="middle" fill="#333" textLength="8.51" lengthAdjust="spacingAndGlyphs" >666</text>
<text x="382.60" y="275.70" font-size="5.6" text-anchor="middle" fill="#333" textLength="8.51" lengthAdjust="spacingAndGlyphs" >173</text>
<text x="421.10" y="275.70" font-size="5.6" text-anchor="middle" fill="#333" textLength="5.67" lengthAdjust="spacingAndGlyphs" >71</text>
<text x="459.60" y="275.70" font-size="5.6" text-anchor="middle" fill="#333" textLength="5.67" lengthAdjust="spacingAndGlyphs" >32</text>
<text x="498.10" y="275.70" font-size="5.6" text-anchor="middle" fill="#333" textLength="5.67" lengthAdjust="spacingAndGlyphs" >15</text>
<text x="536.60" y="275.70" font-size="5.6" text-anchor="middle" fill="#333" textLength="2.84" lengthAdjust="spacingAndGlyphs" >0</text>
<path d="M345.10,175.70 L351.00,175.90 L356.50,177.50 L362.00,179.70 L369.40,183.40 L376.70,188.00 L380.00,189.30 L388.60,194.10 L397.20,198.40 L405.90,201.90 L414.50,205.30 L423.10,207.90 L431.70,211.00 L440.30,213.10 L449.00,215.20 L457.60,216.60 L462.70,217.30 L473.60,218.70 L486.40,220.00 L500.90,221.80 L511.80,223.10 L519.10,224.50 L536.40,224.50" fill="none" stroke="#4a4a4a" stroke-width="0.85" stroke-linejoin="round"/>
<path d="M473.00,218.62 L473.60,218.70 L486.40,220.00 L500.90,221.80 L511.80,223.10 L513.00,223.33" fill="none" stroke="#222" stroke-width="1.12" stroke-linejoin="round" stroke-linecap="round"/>
<path d="M473.00,217.05V220.19M473.75,217.00V220.43M474.50,217.20V220.38M475.68,216.88V220.95M476.43,216.86V221.12M477.18,217.25V220.88M477.93,217.12V221.16M478.91,217.68V220.80M479.66,217.79V220.84M480.41,217.62V221.16M482.63,217.93V221.30M483.38,217.93V221.46M484.13,218.19V221.35M486.02,218.11V221.81M486.77,218.40V221.69M487.52,217.99V222.28M488.56,218.43V222.11M489.31,218.77V221.95M490.06,218.38V222.53M490.81,218.68V222.41M491.56,218.75V222.53M494.19,219.09V222.84M494.94,218.93V223.19M495.69,219.07V223.23M496.44,219.54V222.95M497.19,219.73V222.95M498.30,219.69V223.26M499.05,219.98V223.16M500.05,219.97V223.41M500.80,220.08V223.50M501.55,220.13V223.62M502.30,220.24V223.69M503.05,220.03V224.08M504.16,220.47V223.91M504.91,220.27V224.29M505.66,220.32V224.42M506.74,220.66V224.33M507.49,220.45V224.72M508.24,220.53V224.82M511.21,220.88V225.18M511.96,221.07V225.19" stroke="#111" stroke-width="0.8" fill="none"/>
<path d="M517.00,224.10 L519.10,224.50 L524.00,224.50" fill="none" stroke="#222" stroke-width="1.12" stroke-linejoin="round" stroke-linecap="round"/>
<path d="M517.00,222.00V226.19M517.75,222.56V225.92M518.50,222.71V226.06M519.25,222.60V226.40M520.00,222.76V226.24M522.95,222.72V226.28M523.70,222.67V226.33" stroke="#111" stroke-width="0.8" fill="none"/>
<line x1="362.50" y1="178.05" x2="362.50" y2="181.85" stroke="#444" stroke-width="0.85"/>
<line x1="368.50" y1="181.05" x2="368.50" y2="184.85" stroke="#444" stroke-width="0.85"/>
<line x1="375.00" y1="185.03" x2="375.00" y2="188.83" stroke="#444" stroke-width="0.85"/>
<line x1="389.50" y1="192.65" x2="389.50" y2="196.45" stroke="#444" stroke-width="0.85"/>
<line x1="404.10" y1="199.28" x2="404.10" y2="203.08" stroke="#444" stroke-width="0.85"/>
<line x1="411.90" y1="202.37" x2="411.90" y2="206.17" stroke="#444" stroke-width="0.85"/>
<line x1="413.60" y1="203.04" x2="413.60" y2="206.84" stroke="#444" stroke-width="0.85"/>
<line x1="431.70" y1="209.10" x2="431.70" y2="212.90" stroke="#444" stroke-width="0.85"/>
<line x1="436.00" y1="210.15" x2="436.00" y2="213.95" stroke="#444" stroke-width="0.85"/>
<line x1="449.80" y1="213.43" x2="449.80" y2="217.23" stroke="#444" stroke-width="0.85"/>
<line x1="461.00" y1="215.17" x2="461.00" y2="218.97" stroke="#444" stroke-width="0.85"/>
<line x1="464.50" y1="215.63" x2="464.50" y2="219.43" stroke="#444" stroke-width="0.85"/>
<line x1="470.00" y1="216.34" x2="470.00" y2="220.14" stroke="#444" stroke-width="0.85"/>
<line x1="527.00" y1="222.60" x2="527.00" y2="226.40" stroke="#444" stroke-width="0.85"/>
<line x1="536.40" y1="222.60" x2="536.40" y2="226.40" stroke="#444" stroke-width="0.85"/>
<path d="M345.10,175.70 L347.30,181.60 L351.00,189.80 L356.50,199.00 L361.10,204.50 L365.70,209.10 L371.20,214.70 L377.60,218.90 L380.00,220.00 L388.60,223.40 L397.20,227.20 L405.90,230.00 L414.50,231.70 L423.10,232.80 L431.70,233.80 L449.00,235.50 L470.00,236.00 L524.60,237.40" fill="none" stroke="#4a4a4a" stroke-width="0.85" stroke-linejoin="round"/>
<path d="M358.00,200.79 L361.10,204.50 L363.00,206.40" fill="none" stroke="#222" stroke-width="0.96" stroke-linejoin="round" stroke-linecap="round"/>
<path d="M358.00,199.47V202.11M358.75,200.22V203.17M359.50,201.13V204.04M360.41,201.71V205.63M361.16,202.82V206.29M361.91,203.44V207.17M362.66,204.07V208.04" stroke="#111" stroke-width="0.8" fill="none"/>
<line x1="348.50" y1="182.36" x2="348.50" y2="186.16" stroke="#444" stroke-width="0.85"/>
<line x1="365.70" y1="207.20" x2="365.70" y2="211.00" stroke="#444" stroke-width="0.85"/>
<line x1="369.50" y1="211.07" x2="369.50" y2="214.87" stroke="#444" stroke-width="0.85"/>
<line x1="378.00" y1="217.18" x2="378.00" y2="220.98" stroke="#444" stroke-width="0.85"/>
<line x1="384.30" y1="219.80" x2="384.30" y2="223.60" stroke="#444" stroke-width="0.85"/>
<line x1="400.70" y1="226.43" x2="400.70" y2="230.23" stroke="#444" stroke-width="0.85"/>
<line x1="426.60" y1="231.31" x2="426.60" y2="235.11" stroke="#444" stroke-width="0.85"/>
<line x1="435.20" y1="232.24" x2="435.20" y2="236.04" stroke="#444" stroke-width="0.85"/>
<line x1="436.00" y1="232.32" x2="436.00" y2="236.12" stroke="#444" stroke-width="0.85"/>
<line x1="453.30" y1="233.70" x2="453.30" y2="237.50" stroke="#444" stroke-width="0.85"/>
<line x1="474.60" y1="234.22" x2="474.60" y2="238.02" stroke="#444" stroke-width="0.85"/>
<line x1="485.30" y1="234.49" x2="485.30" y2="238.29" stroke="#444" stroke-width="0.85"/>
<line x1="487.70" y1="234.55" x2="487.70" y2="238.35" stroke="#444" stroke-width="0.85"/>
<line x1="490.20" y1="234.62" x2="490.20" y2="238.42" stroke="#444" stroke-width="0.85"/>
<line x1="493.50" y1="234.70" x2="493.50" y2="238.50" stroke="#444" stroke-width="0.85"/>
<line x1="497.00" y1="234.79" x2="497.00" y2="238.59" stroke="#444" stroke-width="0.85"/>
<line x1="499.50" y1="234.86" x2="499.50" y2="238.66" stroke="#444" stroke-width="0.85"/>
<line x1="502.00" y1="234.92" x2="502.00" y2="238.72" stroke="#444" stroke-width="0.85"/>
<line x1="507.40" y1="235.06" x2="507.40" y2="238.86" stroke="#444" stroke-width="0.85"/>
<line x1="515.50" y1="235.27" x2="515.50" y2="239.07" stroke="#444" stroke-width="0.85"/>
<line x1="524.60" y1="235.50" x2="524.60" y2="239.30" stroke="#444" stroke-width="0.85"/>
<text x="417.10" y="203.20" font-size="5.8" text-anchor="start" fill="#333" textLength="21.2" lengthAdjust="spacingAndGlyphs" >Controlled</text>
<text x="417.10" y="225.50" font-size="5.8" text-anchor="start" fill="#333" textLength="28.8" lengthAdjust="spacingAndGlyphs" >Not controlled</text>
<text x="468.20" y="181.30" font-size="5.4" fill="#2a2a2a" style="stroke:none" textLength="60.3" lengthAdjust="spacing">Controlled&#160; <tspan font-style="italic">v</tspan> not controlled</text>
<text x="468.20" y="188.20" font-size="5.4" fill="#2a2a2a" style="stroke:none" textLength="72.2" lengthAdjust="spacing">HR,&#160; 3.36 (2.96–3.81),&#160; <tspan font-style="italic">p</tspan> &lt;0.001</text>
<rect x="53.5" y="323.5" width="206.8" height="68.89999999999998" fill="none" stroke="#777" stroke-width="0.8"/>
<text x="8.90" y="317.00" font-size="8.6" text-anchor="start" fill="#111" textLength="184.7" lengthAdjust="spacingAndGlyphs" style="stroke:#222;stroke-width:0.12px">(E) No progression for 1 year by first-line treatment</text>
<line x1="50.90" y1="390.00" x2="53.50" y2="390.00" stroke="#777" stroke-width="0.7"/>
<text transform="translate(47.20,390.00) rotate(-90)" font-size="6.0" text-anchor="middle" fill="#444" textLength="6.6" lengthAdjust="spacingAndGlyphs">0.0</text>
<line x1="50.90" y1="377.28" x2="53.50" y2="377.28" stroke="#777" stroke-width="0.7"/>
<text transform="translate(47.20,377.28) rotate(-90)" font-size="6.0" text-anchor="middle" fill="#444" textLength="6.6" lengthAdjust="spacingAndGlyphs">0.2</text>
<line x1="50.90" y1="364.56" x2="53.50" y2="364.56" stroke="#777" stroke-width="0.7"/>
<text transform="translate(47.20,364.56) rotate(-90)" font-size="6.0" text-anchor="middle" fill="#444" textLength="6.6" lengthAdjust="spacingAndGlyphs">0.4</text>
<line x1="50.90" y1="351.84" x2="53.50" y2="351.84" stroke="#777" stroke-width="0.7"/>
<text transform="translate(47.20,351.84) rotate(-90)" font-size="6.0" text-anchor="middle" fill="#444" textLength="6.6" lengthAdjust="spacingAndGlyphs">0.6</text>
<line x1="50.90" y1="339.12" x2="53.50" y2="339.12" stroke="#777" stroke-width="0.7"/>
<text transform="translate(47.20,339.12) rotate(-90)" font-size="6.0" text-anchor="middle" fill="#444" textLength="6.6" lengthAdjust="spacingAndGlyphs">0.8</text>
<line x1="50.90" y1="326.40" x2="53.50" y2="326.40" stroke="#777" stroke-width="0.7"/>
<text transform="translate(47.20,326.40) rotate(-90)" font-size="6.0" text-anchor="middle" fill="#444" textLength="6.6" lengthAdjust="spacingAndGlyphs">1.0</text>
<text transform="translate(35.30,358.30) rotate(-90)" font-size="5.0" text-anchor="middle" fill="#444">survival (%)</text>
<line x1="61.70" y1="392.40" x2="61.70" y2="395.00" stroke="#777" stroke-width="0.7"/>
<line x1="102.70" y1="392.40" x2="102.70" y2="395.00" stroke="#777" stroke-width="0.7"/>
<line x1="143.70" y1="392.40" x2="143.70" y2="395.00" stroke="#777" stroke-width="0.7"/>
<line x1="184.70" y1="392.40" x2="184.70" y2="395.00" stroke="#777" stroke-width="0.7"/>
<line x1="225.70" y1="392.40" x2="225.70" y2="395.00" stroke="#777" stroke-width="0.7"/>
<text x="38.70" y="405.10" font-size="5.6" text-anchor="end" fill="#333" textLength="9.07" lengthAdjust="spacingAndGlyphs" >Day</text>
<text x="61.70" y="405.10" font-size="5.6" text-anchor="middle" fill="#333" textLength="2.84" lengthAdjust="spacingAndGlyphs" >0</text>
<text x="102.70" y="405.10" font-size="5.6" text-anchor="middle" fill="#333" textLength="8.51" lengthAdjust="spacingAndGlyphs" >365</text>
<text x="143.70" y="405.10" font-size="5.6" text-anchor="middle" fill="#333" textLength="8.51" lengthAdjust="spacingAndGlyphs" >730</text>
<text x="184.70" y="405.10" font-size="5.6" text-anchor="middle" fill="#333" textLength="11.34" lengthAdjust="spacingAndGlyphs" >1095</text>
<text x="225.70" y="405.10" font-size="5.6" text-anchor="middle" fill="#333" textLength="11.34" lengthAdjust="spacingAndGlyphs" >1460</text>
<text x="38.70" y="414.60" font-size="5.6" text-anchor="end" fill="#333" textLength="27.21" lengthAdjust="spacingAndGlyphs" >Progression</text>
<text x="38.70" y="420.90" font-size="5.6" text-anchor="end" fill="#333" textLength="8.79" lengthAdjust="spacingAndGlyphs" >free</text>
<text x="61.70" y="416.60" font-size="5.6" text-anchor="middle" fill="#333" textLength="8.51" lengthAdjust="spacingAndGlyphs" >481</text>
<text x="102.70" y="416.60" font-size="5.6" text-anchor="middle" fill="#333" textLength="8.51" lengthAdjust="spacingAndGlyphs" >481</text>
<text x="143.70" y="416.60" font-size="5.6" text-anchor="middle" fill="#333" textLength="8.51" lengthAdjust="spacingAndGlyphs" >106</text>
<text x="184.70" y="416.60" font-size="5.6" text-anchor="middle" fill="#333" textLength="5.67" lengthAdjust="spacingAndGlyphs" >16</text>
<text x="225.70" y="416.60" font-size="5.6" text-anchor="middle" fill="#333" textLength="2.84" lengthAdjust="spacingAndGlyphs" >9</text>
<text x="38.70" y="430.50" font-size="5.6" text-anchor="end" fill="#333" textLength="26.08" lengthAdjust="spacingAndGlyphs" >Progressed</text>
<text x="61.70" y="430.50" font-size="5.6" text-anchor="middle" fill="#333" textLength="8.51" lengthAdjust="spacingAndGlyphs" >585</text>
<text x="102.70" y="430.50" font-size="5.6" text-anchor="middle" fill="#333" textLength="8.51" lengthAdjust="spacingAndGlyphs" >585</text>
<text x="143.70" y="430.50" font-size="5.6" text-anchor="middle" fill="#333" textLength="5.67" lengthAdjust="spacingAndGlyphs" >64</text>
<text x="184.70" y="430.50" font-size="5.6" text-anchor="middle" fill="#333" textLength="5.67" lengthAdjust="spacingAndGlyphs" >18</text>
<text x="225.70" y="430.50" font-size="5.6" text-anchor="middle" fill="#333" textLength="5.67" lengthAdjust="spacingAndGlyphs" >12</text>
<path d="M61.40,326.40 L102.50,326.40 L106.00,327.50 L111.50,328.60 L117.00,330.00 L123.00,331.50 L128.70,333.70 L134.50,336.10 L140.00,337.60 L146.00,339.00 L152.00,340.80 L160.00,343.00 L165.00,343.60 L175.00,345.50 L177.70,347.60 L205.00,347.60 L205.00,350.50 L228.60,350.50 L228.60,356.40 L244.10,356.40" fill="none" stroke="#4a4a4a" stroke-width="0.85" stroke-linejoin="round"/>
<path d="M103.00,326.56 L106.00,327.50 L111.50,328.60 L117.00,330.00 L123.00,331.50 L128.70,333.70 L134.50,336.10 L140.00,337.60 L146.00,339.00 L150.00,340.20" fill="none" stroke="#222" stroke-width="2.40" stroke-linejoin="round" stroke-linecap="round"/>
<path d="M103.00,324.67V328.44M103.75,324.65V328.94M104.50,324.96V329.10M105.39,325.16V329.46M106.14,325.71V329.35M106.89,325.37V329.98M107.92,325.69V330.08M108.67,326.14V329.93M109.42,325.86V330.51M110.17,326.22V330.45M111.47,326.58V330.61M112.22,326.83V330.74M112.97,326.63V331.31M113.72,327.33V331.00M114.60,327.40V331.38M115.35,327.88V331.29M116.10,327.70V331.84M117.39,328.12V332.08M118.14,327.97V332.60M119.28,328.62V332.52M120.03,328.37V333.15M121.36,329.01V333.17M122.11,329.00V333.55M123.46,329.30V334.06M124.21,329.89V334.05M124.96,330.16V334.36M126.07,330.33V335.04M126.82,330.63V335.32M127.57,331.20V335.33M128.32,331.43V335.68M129.07,331.75V335.96M129.99,332.12V336.34M130.74,332.46V336.63M131.49,332.47V337.24M132.24,333.35V336.98M133.59,334.00V337.45M134.34,334.04V338.03M135.09,334.36V338.16M135.84,334.30V338.63M136.59,334.44V338.89M137.48,334.62V339.21M138.23,335.15V339.09M139.48,335.31V339.60M140.23,335.36V339.95M140.98,335.59V340.07M142.23,336.17V340.07M142.98,336.30V340.29M143.73,336.76V340.18M144.48,336.83V340.47M145.76,336.69V341.19M146.51,336.79V341.52M147.26,337.39V341.37M148.01,337.25V341.96M148.76,337.93V341.73M149.75,337.88V342.37" stroke="#111" stroke-width="0.8" fill="none"/>
<path d="M150.00,340.20 L152.00,340.80 L160.00,343.00" fill="none" stroke="#222" stroke-width="0.96" stroke-linejoin="round" stroke-linecap="round"/>
<path d="M150.00,338.24V342.16M150.75,338.84V342.01M151.50,339.05V342.25M152.25,339.52V342.21M153.17,339.75V342.50M153.92,339.92V342.74M155.82,339.97V343.74M156.57,340.70V343.42M157.32,340.54V343.99M159.90,341.38V344.57" stroke="#111" stroke-width="0.8" fill="none"/>
<line x1="152.00" y1="338.90" x2="152.00" y2="342.70" stroke="#444" stroke-width="0.85"/>
<line x1="155.00" y1="339.73" x2="155.00" y2="343.52" stroke="#444" stroke-width="0.85"/>
<line x1="158.00" y1="340.55" x2="158.00" y2="344.35" stroke="#444" stroke-width="0.85"/>
<line x1="161.00" y1="341.22" x2="161.00" y2="345.02" stroke="#444" stroke-width="0.85"/>
<line x1="164.00" y1="341.58" x2="164.00" y2="345.38" stroke="#444" stroke-width="0.85"/>
<line x1="166.00" y1="341.89" x2="166.00" y2="345.69" stroke="#444" stroke-width="0.85"/>
<line x1="168.60" y1="342.38" x2="168.60" y2="346.18" stroke="#444" stroke-width="0.85"/>
<line x1="170.50" y1="342.75" x2="170.50" y2="346.54" stroke="#444" stroke-width="0.85"/>
<line x1="171.30" y1="342.90" x2="171.30" y2="346.70" stroke="#444" stroke-width="0.85"/>
<line x1="175.00" y1="343.60" x2="175.00" y2="347.40" stroke="#444" stroke-width="0.85"/>
<line x1="187.70" y1="345.70" x2="187.70" y2="349.50" stroke="#444" stroke-width="0.85"/>
<line x1="213.70" y1="348.60" x2="213.70" y2="352.40" stroke="#444" stroke-width="0.85"/>
<line x1="215.90" y1="348.60" x2="215.90" y2="352.40" stroke="#444" stroke-width="0.85"/>
<line x1="218.60" y1="348.60" x2="218.60" y2="352.40" stroke="#444" stroke-width="0.85"/>
<line x1="223.50" y1="348.60" x2="223.50" y2="352.40" stroke="#444" stroke-width="0.85"/>
<line x1="225.90" y1="348.60" x2="225.90" y2="352.40" stroke="#444" stroke-width="0.85"/>
<line x1="227.70" y1="348.60" x2="227.70" y2="352.40" stroke="#444" stroke-width="0.85"/>
<line x1="237.70" y1="354.50" x2="237.70" y2="358.30" stroke="#444" stroke-width="0.85"/>
<line x1="239.20" y1="354.50" x2="239.20" y2="358.30" stroke="#444" stroke-width="0.85"/>
<line x1="244.10" y1="354.50" x2="244.10" y2="358.30" stroke="#444" stroke-width="0.85"/>
<path d="M102.50,326.40 L106.90,330.30 L111.50,337.20 L117.20,343.60 L123.00,347.00 L128.70,351.00 L134.50,355.60 L140.20,359.10 L146.00,361.40 L151.30,362.70 L160.00,364.30 L165.00,365.50 L169.50,368.20 L178.60,370.00 L185.00,371.80 L192.30,372.70 L199.50,374.50 L201.40,376.40 L219.50,376.40 L219.50,377.80 L236.80,379.10 L254.10,379.10" fill="none" stroke="#4a4a4a" stroke-width="0.85" stroke-linejoin="round"/>
<path d="M103.00,326.84 L106.90,330.30 L111.50,337.20 L117.20,343.60 L123.00,347.00 L128.70,351.00 L134.50,355.60 L140.20,359.10 L143.00,360.21" fill="none" stroke="#222" stroke-width="2.55" stroke-linejoin="round" stroke-linecap="round"/>
<path d="M103.00,324.53V329.16M103.75,325.23V329.78M104.97,326.31V330.87M105.72,327.33V331.18M106.47,327.56V332.28M107.34,328.69V333.24M108.09,330.23V333.95M108.84,331.14V335.29M109.84,332.56V336.86M110.59,333.76V337.91M111.34,334.74V339.19M112.09,335.73V340.00M112.84,336.80V340.61M114.04,337.89V342.22M114.79,338.81V342.99M115.54,339.32V344.16M116.54,340.61V345.10M117.29,341.28V346.02M118.04,341.65V346.53M118.79,342.18V346.88M120.07,343.47V347.09M120.82,343.23V348.21M122.13,344.65V348.33M122.88,344.69V349.17M123.63,345.43V349.45M124.53,346.08V350.07M125.28,346.31V350.89M126.03,347.04V351.22M126.78,347.76V351.54M127.53,348.24V352.12M128.68,348.81V353.16M129.43,349.35V353.81M130.49,350.28V354.55M131.24,351.00V355.03M131.99,351.46V355.75M133.14,352.48V356.56M133.89,352.89V357.34M134.64,353.76V357.61M135.83,354.51V358.32M136.58,354.73V359.03M137.33,355.17V359.51M138.08,355.91V359.69M138.83,355.93V360.59M139.79,356.70V360.99M140.54,357.20V361.27M141.29,357.64V361.42M142.04,357.93V361.73M142.79,358.15V362.11" stroke="#111" stroke-width="0.8" fill="none"/>
<path d="M143.00,360.21 L146.00,361.40 L151.30,362.70 L156.00,363.56" fill="none" stroke="#222" stroke-width="0.96" stroke-linejoin="round" stroke-linecap="round"/>
<path d="M143.00,358.52V361.90M143.75,358.73V362.29M144.70,359.12V362.65M145.45,359.67V362.70M146.20,359.92V362.98M146.95,359.79V363.47M147.70,359.94V363.69M149.78,360.83V363.82M150.53,360.77V364.25M151.28,360.79V364.60M152.49,361.60V364.23M153.24,361.53V364.59M153.99,361.80V364.59M154.74,361.86V364.81" stroke="#111" stroke-width="0.8" fill="none"/>
<line x1="146.00" y1="359.50" x2="146.00" y2="363.30" stroke="#444" stroke-width="0.85"/>
<line x1="149.00" y1="360.24" x2="149.00" y2="364.04" stroke="#444" stroke-width="0.85"/>
<line x1="152.00" y1="360.93" x2="152.00" y2="364.73" stroke="#444" stroke-width="0.85"/>
<line x1="155.00" y1="361.48" x2="155.00" y2="365.28" stroke="#444" stroke-width="0.85"/>
<line x1="158.00" y1="362.03" x2="158.00" y2="365.83" stroke="#444" stroke-width="0.85"/>
<line x1="163.00" y1="363.12" x2="163.00" y2="366.92" stroke="#444" stroke-width="0.85"/>
<line x1="218.60" y1="374.50" x2="218.60" y2="378.30" stroke="#444" stroke-width="0.85"/>
<line x1="229.00" y1="376.61" x2="229.00" y2="380.41" stroke="#444" stroke-width="0.85"/>
<line x1="232.00" y1="376.84" x2="232.00" y2="380.64" stroke="#444" stroke-width="0.85"/>
<line x1="234.50" y1="377.03" x2="234.50" y2="380.83" stroke="#444" stroke-width="0.85"/>
<line x1="236.50" y1="377.18" x2="236.50" y2="380.98" stroke="#444" stroke-width="0.85"/>
<line x1="238.00" y1="377.20" x2="238.00" y2="381.00" stroke="#444" stroke-width="0.85"/>
<line x1="240.00" y1="377.20" x2="240.00" y2="381.00" stroke="#444" stroke-width="0.85"/>
<line x1="244.00" y1="377.20" x2="244.00" y2="381.00" stroke="#444" stroke-width="0.85"/>
<line x1="254.00" y1="377.20" x2="254.00" y2="381.00" stroke="#444" stroke-width="0.85"/>
<text x="136.50" y="329.70" font-size="5.8" text-anchor="start" fill="#333" textLength="35.4" lengthAdjust="spacingAndGlyphs" >Progression free</text>
<text x="136.50" y="372.00" font-size="5.8" text-anchor="start" fill="#333" textLength="24.5" lengthAdjust="spacingAndGlyphs" >Progressed</text>
<text x="185.50" y="330.90" font-size="5.4" fill="#2a2a2a" style="stroke:none" textLength="69.5" lengthAdjust="spacing">Progression&#160; free <tspan font-style="italic">v</tspan> progressed</text>
<text x="185.50" y="337.30" font-size="5.4" fill="#2a2a2a" style="stroke:none" textLength="72.2" lengthAdjust="spacing">HR,&#160; 3.42 (2.60–4.50),&#160; <tspan font-style="italic">p</tspan> &lt;0.001</text>
<rect x="336.7" y="323.4" width="206.7" height="69.10000000000002" fill="none" stroke="#777" stroke-width="0.8"/>
<text x="290.00" y="316.80" font-size="8.6" text-anchor="start" fill="#111" textLength="226.8" lengthAdjust="spacingAndGlyphs" style="stroke:#222;stroke-width:0.12px">(F) No progression for 1 year by second or later-line treatment</text>
<line x1="334.10" y1="390.00" x2="336.70" y2="390.00" stroke="#777" stroke-width="0.7"/>
<text transform="translate(330.00,390.00) rotate(-90)" font-size="6.0" text-anchor="middle" fill="#444" textLength="6.6" lengthAdjust="spacingAndGlyphs">0.0</text>
<line x1="334.10" y1="377.28" x2="336.70" y2="377.28" stroke="#777" stroke-width="0.7"/>
<text transform="translate(330.00,377.28) rotate(-90)" font-size="6.0" text-anchor="middle" fill="#444" textLength="6.6" lengthAdjust="spacingAndGlyphs">0.2</text>
<line x1="334.10" y1="364.56" x2="336.70" y2="364.56" stroke="#777" stroke-width="0.7"/>
<text transform="translate(330.00,364.56) rotate(-90)" font-size="6.0" text-anchor="middle" fill="#444" textLength="6.6" lengthAdjust="spacingAndGlyphs">0.4</text>
<line x1="334.10" y1="351.84" x2="336.70" y2="351.84" stroke="#777" stroke-width="0.7"/>
<text transform="translate(330.00,351.84) rotate(-90)" font-size="6.0" text-anchor="middle" fill="#444" textLength="6.6" lengthAdjust="spacingAndGlyphs">0.6</text>
<line x1="334.10" y1="339.12" x2="336.70" y2="339.12" stroke="#777" stroke-width="0.7"/>
<text transform="translate(330.00,339.12) rotate(-90)" font-size="6.0" text-anchor="middle" fill="#444" textLength="6.6" lengthAdjust="spacingAndGlyphs">0.8</text>
<line x1="334.10" y1="326.40" x2="336.70" y2="326.40" stroke="#777" stroke-width="0.7"/>
<text transform="translate(330.00,326.40) rotate(-90)" font-size="6.0" text-anchor="middle" fill="#444" textLength="6.6" lengthAdjust="spacingAndGlyphs">1.0</text>
<text transform="translate(318.40,358.70) rotate(-90)" font-size="5.0" text-anchor="middle" fill="#444">survival (%)</text>
<line x1="344.20" y1="392.50" x2="344.20" y2="395.10" stroke="#777" stroke-width="0.7"/>
<line x1="382.65" y1="392.50" x2="382.65" y2="395.10" stroke="#777" stroke-width="0.7"/>
<line x1="421.10" y1="392.50" x2="421.10" y2="395.10" stroke="#777" stroke-width="0.7"/>
<line x1="459.55" y1="392.50" x2="459.55" y2="395.10" stroke="#777" stroke-width="0.7"/>
<line x1="498.00" y1="392.50" x2="498.00" y2="395.10" stroke="#777" stroke-width="0.7"/>
<line x1="536.45" y1="392.50" x2="536.45" y2="395.10" stroke="#777" stroke-width="0.7"/>
<text x="323.00" y="404.40" font-size="5.6" text-anchor="end" fill="#333" textLength="9.07" lengthAdjust="spacingAndGlyphs" >Day</text>
<text x="345.00" y="404.40" font-size="5.6" text-anchor="middle" fill="#333" textLength="2.84" lengthAdjust="spacingAndGlyphs" >0</text>
<text x="383.60" y="404.40" font-size="5.6" text-anchor="middle" fill="#333" textLength="8.51" lengthAdjust="spacingAndGlyphs" >365</text>
<text x="422.20" y="404.40" font-size="5.6" text-anchor="middle" fill="#333" textLength="8.51" lengthAdjust="spacingAndGlyphs" >730</text>
<text x="460.80" y="404.40" font-size="5.6" text-anchor="middle" fill="#333" textLength="11.34" lengthAdjust="spacingAndGlyphs" >1095</text>
<text x="499.40" y="404.40" font-size="5.6" text-anchor="middle" fill="#333" textLength="11.34" lengthAdjust="spacingAndGlyphs" >1460</text>
<text x="538.00" y="404.40" font-size="5.6" text-anchor="middle" fill="#333" textLength="11.34" lengthAdjust="spacingAndGlyphs" >1825</text>
<text x="323.00" y="413.90" font-size="5.6" text-anchor="end" fill="#333" textLength="27.21" lengthAdjust="spacingAndGlyphs" >Progression</text>
<text x="323.00" y="420.50" font-size="5.6" text-anchor="end" fill="#333" textLength="8.79" lengthAdjust="spacingAndGlyphs" >free</text>
<text x="345.00" y="416.00" font-size="5.6" text-anchor="middle" fill="#333" textLength="8.51" lengthAdjust="spacingAndGlyphs" >223</text>
<text x="383.60" y="416.00" font-size="5.6" text-anchor="middle" fill="#333" textLength="8.51" lengthAdjust="spacingAndGlyphs" >223</text>
<text x="422.20" y="416.00" font-size="5.6" text-anchor="middle" fill="#333" textLength="8.51" lengthAdjust="spacingAndGlyphs" >183</text>
<text x="460.80" y="416.00" font-size="5.6" text-anchor="middle" fill="#333" textLength="8.51" lengthAdjust="spacingAndGlyphs" >152</text>
<text x="499.40" y="416.00" font-size="5.6" text-anchor="middle" fill="#333" textLength="5.67" lengthAdjust="spacingAndGlyphs" >71</text>
<text x="538.00" y="416.00" font-size="5.6" text-anchor="middle" fill="#333" textLength="2.84" lengthAdjust="spacingAndGlyphs" >0</text>
<text x="323.00" y="429.90" font-size="5.6" text-anchor="end" fill="#333" textLength="26.08" lengthAdjust="spacingAndGlyphs" >Progressed</text>
<text x="345.00" y="429.90" font-size="5.6" text-anchor="middle" fill="#333" textLength="8.51" lengthAdjust="spacingAndGlyphs" >435</text>
<text x="383.60" y="429.90" font-size="5.6" text-anchor="middle" fill="#333" textLength="8.51" lengthAdjust="spacingAndGlyphs" >435</text>
<text x="422.20" y="429.90" font-size="5.6" text-anchor="middle" fill="#333" textLength="8.51" lengthAdjust="spacingAndGlyphs" >207</text>
<text x="460.80" y="429.90" font-size="5.6" text-anchor="middle" fill="#333" textLength="8.51" lengthAdjust="spacingAndGlyphs" >103</text>
<text x="499.40" y="429.90" font-size="5.6" text-anchor="middle" fill="#333" textLength="5.67" lengthAdjust="spacingAndGlyphs" >43</text>
<text x="538.00" y="429.90" font-size="5.6" text-anchor="middle" fill="#333" textLength="2.84" lengthAdjust="spacingAndGlyphs" >0</text>
<path d="M344.20,326.40 L383.60,326.40 L392.20,331.20 L400.90,332.40 L406.00,335.20 L418.10,336.40 L426.70,339.00 L435.30,340.70 L444.00,342.40 L452.60,344.50 L461.90,346.30 L472.30,347.60 L486.10,349.70 L496.50,352.50 L506.80,354.50 L514.60,355.40 L517.20,357.10 L536.20,357.10" fill="none" stroke="#4a4a4a" stroke-width="0.85" stroke-linejoin="round"/>
<path d="M476.00,348.16 L486.10,349.70 L496.50,352.50 L506.80,354.50 L514.00,355.33" fill="none" stroke="#222" stroke-width="1.20" stroke-linejoin="round" stroke-linecap="round"/>
<path d="M476.00,346.32V350.01M476.75,346.61V349.94M478.95,346.82V350.40M479.70,347.09V350.36M480.45,347.22V350.46M481.50,347.33V350.67M482.25,347.28V350.94M483.00,347.62V350.83M486.19,347.88V351.57M486.94,347.76V352.09M489.95,348.49V352.99M490.70,349.15V352.73M491.45,349.48V352.80M492.20,349.34V353.35M492.95,349.44V353.65M494.01,350.02V353.64M494.76,350.28V353.79M495.51,350.42V354.05M496.26,350.74V354.13M498.18,351.08V354.58M498.93,351.07V354.88M499.68,351.13V355.10M500.66,351.53V355.09M501.41,351.77V355.14M502.16,351.50V355.70M502.91,351.62V355.87M503.66,352.24V355.54M505.96,352.15V356.53M506.71,352.38V356.59M507.46,352.50V356.66M508.21,353.04V356.28M508.96,352.93V356.56M510.94,353.28V356.68M511.69,352.85V357.28M512.44,353.40V356.90M513.19,353.05V357.43M513.94,353.13V357.52" stroke="#111" stroke-width="0.8" fill="none"/>
<path d="M516.00,356.32 L517.20,357.10 L524.00,357.10" fill="none" stroke="#222" stroke-width="1.12" stroke-linejoin="round" stroke-linecap="round"/>
<path d="M516.00,354.71V357.92M516.75,354.75V358.86M517.50,355.02V359.18M518.84,355.41V358.79M519.59,355.13V359.07M520.34,355.04V359.16M522.10,354.96V359.24M522.85,355.15V359.05M523.98,355.28V358.92" stroke="#111" stroke-width="0.8" fill="none"/>
<line x1="414.30" y1="334.12" x2="414.30" y2="337.92" stroke="#444" stroke-width="0.85"/>
<line x1="431.00" y1="337.95" x2="431.00" y2="341.75" stroke="#444" stroke-width="0.85"/>
<line x1="436.20" y1="338.98" x2="436.20" y2="342.78" stroke="#444" stroke-width="0.85"/>
<line x1="450.90" y1="342.18" x2="450.90" y2="345.98" stroke="#444" stroke-width="0.85"/>
<line x1="461.90" y1="344.40" x2="461.90" y2="348.20" stroke="#444" stroke-width="0.85"/>
<line x1="470.00" y1="345.41" x2="470.00" y2="349.21" stroke="#444" stroke-width="0.85"/>
<line x1="526.00" y1="355.20" x2="526.00" y2="359.00" stroke="#444" stroke-width="0.85"/>
<line x1="536.20" y1="355.20" x2="536.20" y2="359.00" stroke="#444" stroke-width="0.85"/>
<path d="M383.60,326.40 L388.80,332.90 L397.40,342.40 L406.00,349.30 L414.70,355.30 L423.30,360.50 L431.90,364.50 L440.50,368.30 L449.10,370.90 L455.00,371.80 L465.40,375.30 L475.70,376.10 L489.50,377.90 L506.80,380.10 L515.50,380.80 L524.10,382.20 L528.40,384.80" fill="none" stroke="#4a4a4a" stroke-width="0.85" stroke-linejoin="round"/>
<path d="M400.00,344.49 L405.00,348.50" fill="none" stroke="#222" stroke-width="0.96" stroke-linejoin="round" stroke-linecap="round"/>
<path d="M400.00,342.99V345.98M400.75,343.53V346.65M401.50,344.11V347.27M402.25,344.67V347.91M403.49,345.42V349.15M404.24,346.01V349.77" stroke="#111" stroke-width="0.8" fill="none"/>
<path d="M410.00,352.06 L414.00,354.82" fill="none" stroke="#222" stroke-width="0.96" stroke-linejoin="round" stroke-linecap="round"/>
<path d="M410.00,350.37V353.74M410.75,350.73V354.42M411.50,351.40V354.79M413.78,352.79V356.54" stroke="#111" stroke-width="0.8" fill="none"/>
<path d="M434.00,365.43 L437.00,366.75" fill="none" stroke="#222" stroke-width="0.88" stroke-linejoin="round" stroke-linecap="round"/>
<path d="M434.00,364.15V366.70M434.75,363.89V367.63M435.50,364.28V367.90M436.37,364.98V367.97" stroke="#111" stroke-width="0.8" fill="none"/>
<path d="M478.00,376.40 L489.50,377.90 L506.80,380.10 L512.00,380.52" fill="none" stroke="#222" stroke-width="1.12" stroke-linejoin="round" stroke-linecap="round"/>
<path d="M478.00,374.47V378.33M478.75,374.71V378.29M479.98,374.85V378.47M480.73,374.77V378.75M481.48,374.91V378.80M482.35,374.84V379.09M483.10,375.45V378.69M485.59,375.36V379.42M486.34,375.90V379.07M487.09,375.68V379.49M488.04,375.93V379.49M488.79,376.15V379.47M489.54,376.23V379.58M491.78,376.14V380.24M492.53,376.46V380.11M493.28,376.55V380.21M494.52,376.74V380.34M495.27,376.85V380.41M496.02,377.14V380.31M497.00,377.25V380.46M497.75,377.19V380.71M498.50,377.47V380.62M499.39,377.34V380.98M500.14,377.49V381.02M500.89,377.50V381.20M504.02,377.57V381.93M504.77,377.76V381.92M505.52,377.77V382.10M506.57,378.19V381.95M507.32,378.37V381.92M508.07,378.70V381.71M511.29,378.50V382.42" stroke="#111" stroke-width="0.8" fill="none"/>
<line x1="389.70" y1="331.99" x2="389.70" y2="335.79" stroke="#444" stroke-width="0.85"/>
<line x1="401.70" y1="343.95" x2="401.70" y2="347.75" stroke="#444" stroke-width="0.85"/>
<line x1="404.30" y1="346.04" x2="404.30" y2="349.84" stroke="#444" stroke-width="0.85"/>
<line x1="412.10" y1="351.61" x2="412.10" y2="355.41" stroke="#444" stroke-width="0.85"/>
<line x1="427.60" y1="360.60" x2="427.60" y2="364.40" stroke="#444" stroke-width="0.85"/>
<line x1="435.30" y1="364.10" x2="435.30" y2="367.90" stroke="#444" stroke-width="0.85"/>
<line x1="452.90" y1="369.58" x2="452.90" y2="373.38" stroke="#444" stroke-width="0.85"/>
<line x1="465.40" y1="373.40" x2="465.40" y2="377.20" stroke="#444" stroke-width="0.85"/>
<line x1="475.00" y1="374.15" x2="475.00" y2="377.95" stroke="#444" stroke-width="0.85"/>
<line x1="514.00" y1="378.78" x2="514.00" y2="382.58" stroke="#444" stroke-width="0.85"/>
<line x1="517.00" y1="379.14" x2="517.00" y2="382.94" stroke="#444" stroke-width="0.85"/>
<line x1="520.00" y1="379.63" x2="520.00" y2="383.43" stroke="#444" stroke-width="0.85"/>
<line x1="523.00" y1="380.12" x2="523.00" y2="383.92" stroke="#444" stroke-width="0.85"/>
<line x1="528.40" y1="382.90" x2="528.40" y2="386.70" stroke="#444" stroke-width="0.85"/>
<text x="417.80" y="334.70" font-size="5.8" text-anchor="start" fill="#333" textLength="35.3" lengthAdjust="spacingAndGlyphs" >Progression free</text>
<text x="417.80" y="376.00" font-size="5.8" text-anchor="start" fill="#333" textLength="24.8" lengthAdjust="spacingAndGlyphs" >Progressed</text>
<text x="468.30" y="330.40" font-size="5.4" fill="#2a2a2a" style="stroke:none" textLength="69.6" lengthAdjust="spacing">Progression&#160; free <tspan font-style="italic">v</tspan> progressed</text>
<text x="468.30" y="337.30" font-size="5.4" fill="#2a2a2a" style="stroke:none" textLength="72.6" lengthAdjust="spacing">HR,&#160; 3.33 (2.64–4.20),&#160; <tspan font-style="italic">p</tspan> &lt;0.001</text>
</svg></body></html>
